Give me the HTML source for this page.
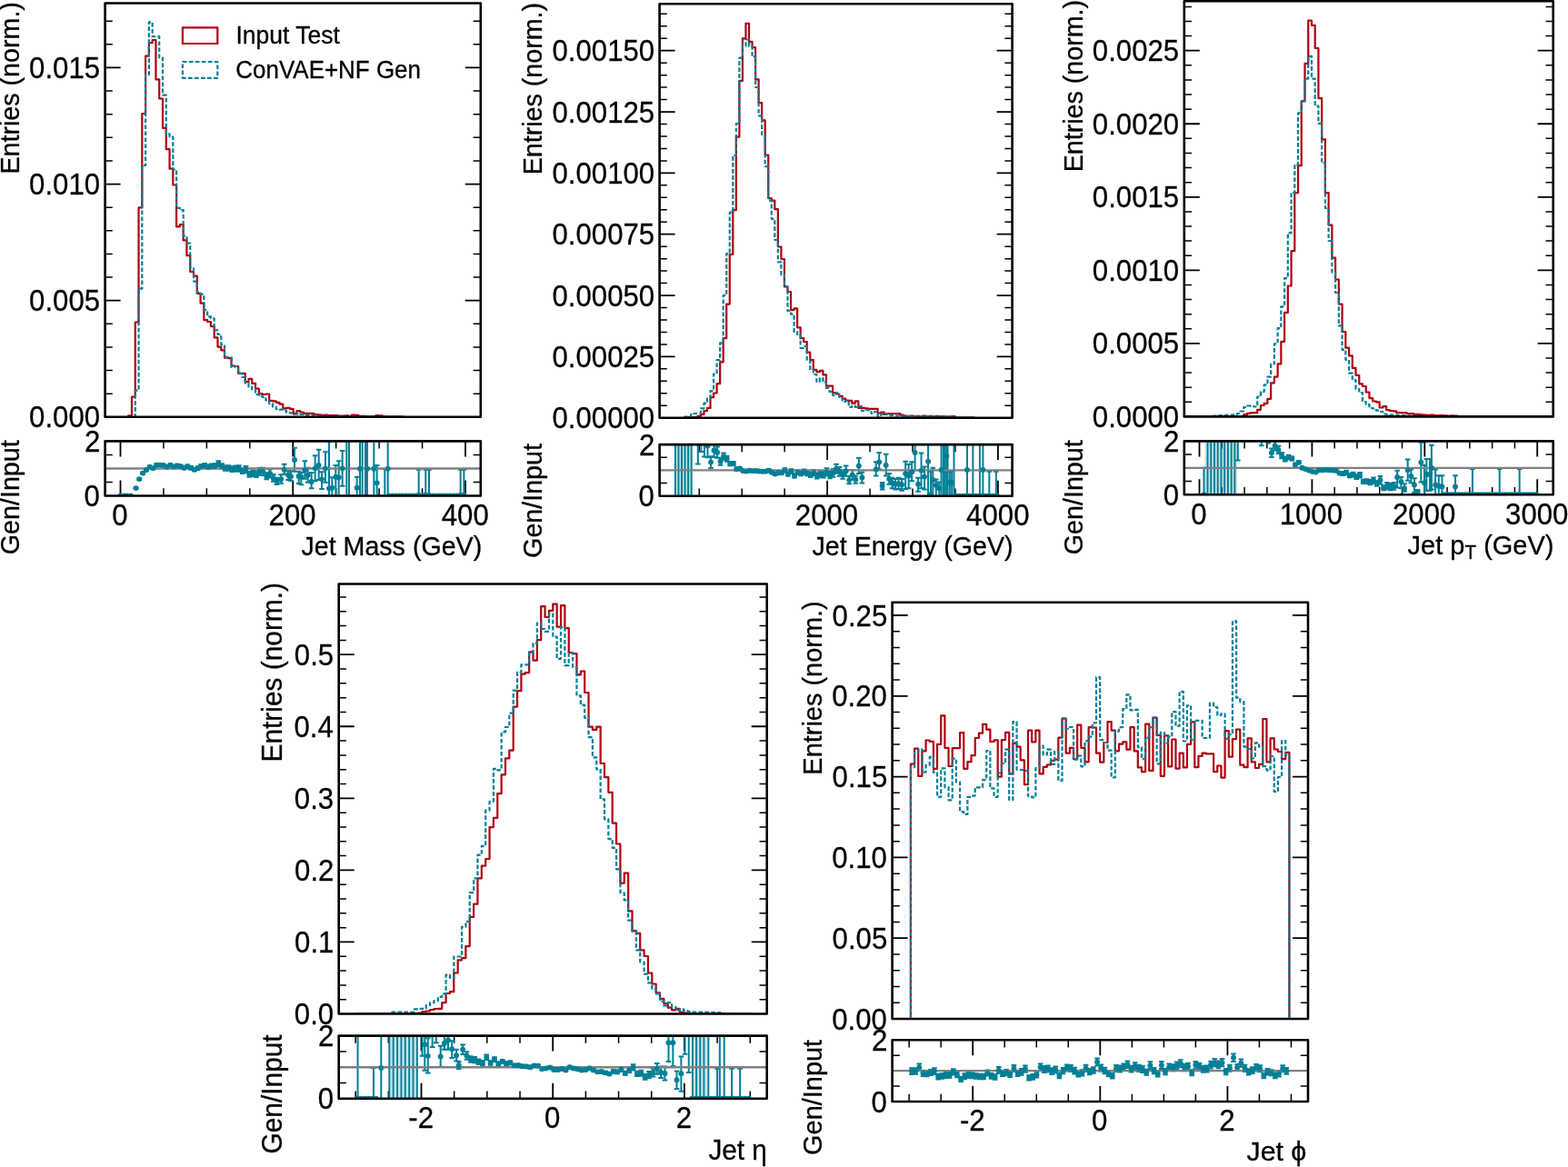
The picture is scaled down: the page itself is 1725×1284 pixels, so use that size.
<!DOCTYPE html>
<html><head><meta charset="utf-8"><title>Jet distributions</title>
<style>html,body{margin:0;padding:0;background:#fff;}svg{display:block;}text{stroke:#000;stroke-width:0.3px;}</style></head>
<body><svg xmlns="http://www.w3.org/2000/svg" width="1725" height="1284" viewBox="0 0 1725 1284" font-family="'Liberation Sans', Arial, Helvetica, sans-serif" fill="#000" stroke-linejoin="round"><defs><clipPath id="c_mass"><rect x="115.6" y="3.5" width="413.2" height="455.3"/></clipPath><clipPath id="r_mass"><rect x="115.6" y="485.4" width="413.2" height="60.1"/></clipPath><clipPath id="c_energy"><rect x="725.6" y="4.3" width="388" height="455.4"/></clipPath><clipPath id="r_energy"><rect x="725.6" y="489.1" width="388" height="56.6"/></clipPath><clipPath id="c_pt"><rect x="1302.8" y="1.3" width="405.9" height="457.1"/></clipPath><clipPath id="r_pt"><rect x="1302.8" y="485.4" width="405.9" height="58.9"/></clipPath><clipPath id="c_eta"><rect x="372.7" y="642.5" width="471" height="473"/></clipPath><clipPath id="r_eta"><rect x="372.7" y="1139.6" width="471" height="69.2"/></clipPath><clipPath id="c_phi"><rect x="981.6" y="662.7" width="457.4" height="458.3"/></clipPath><clipPath id="r_phi"><rect x="981.6" y="1144.2" width="457.4" height="67.8"/></clipPath></defs><g><path d="M115.6 433.17h8.2M528.8 433.17h-8.2" stroke="#000" stroke-width="1.5"/><path d="M115.6 407.55h8.2M528.8 407.55h-8.2" stroke="#000" stroke-width="1.5"/><path d="M115.6 381.92h8.2M528.8 381.92h-8.2" stroke="#000" stroke-width="1.5"/><path d="M115.6 356.29h8.2M528.8 356.29h-8.2" stroke="#000" stroke-width="1.5"/><path d="M115.6 330.67h17M528.8 330.67h-17" stroke="#000" stroke-width="1.8"/><path d="M115.6 305.04h8.2M528.8 305.04h-8.2" stroke="#000" stroke-width="1.5"/><path d="M115.6 279.41h8.2M528.8 279.41h-8.2" stroke="#000" stroke-width="1.5"/><path d="M115.6 253.79h8.2M528.8 253.79h-8.2" stroke="#000" stroke-width="1.5"/><path d="M115.6 228.16h8.2M528.8 228.16h-8.2" stroke="#000" stroke-width="1.5"/><path d="M115.6 202.53h17M528.8 202.53h-17" stroke="#000" stroke-width="1.8"/><path d="M115.6 176.91h8.2M528.8 176.91h-8.2" stroke="#000" stroke-width="1.5"/><path d="M115.6 151.28h8.2M528.8 151.28h-8.2" stroke="#000" stroke-width="1.5"/><path d="M115.6 125.65h8.2M528.8 125.65h-8.2" stroke="#000" stroke-width="1.5"/><path d="M115.6 100.03h8.2M528.8 100.03h-8.2" stroke="#000" stroke-width="1.5"/><path d="M115.6 74.4h17M528.8 74.4h-17" stroke="#000" stroke-width="1.8"/><path d="M115.6 48.77h8.2M528.8 48.77h-8.2" stroke="#000" stroke-width="1.5"/><path d="M115.6 23.15h8.2M528.8 23.15h-8.2" stroke="#000" stroke-width="1.5"/><text transform="translate(110.13,470.3) scale(0.9230,1)" text-anchor="end" font-size="33.8">0.000</text><text transform="translate(110.13,342.17) scale(0.9230,1)" text-anchor="end" font-size="33.8">0.005</text><text transform="translate(110.13,214.03) scale(0.9230,1)" text-anchor="end" font-size="33.8">0.010</text><text transform="translate(110.13,85.9) scale(0.9230,1)" text-anchor="end" font-size="33.8">0.015</text><path d="M115.6 530.48h8.2M528.8 530.48h-8.2" stroke="#000" stroke-width="1.5"/><path d="M115.6 500.42h8.2M528.8 500.42h-8.2" stroke="#000" stroke-width="1.5"/><text transform="translate(109.93,557) scale(0.9230,1)" text-anchor="end" font-size="33.8">0</text><text transform="translate(110.24,496.9) scale(0.9230,1)" text-anchor="end" font-size="33.8">2</text><path d="M132.5 545.5v-17M132.5 485.4v17" stroke="#000" stroke-width="1.8"/><path d="M179.94 545.5v-8.2M179.94 485.4v8.2" stroke="#000" stroke-width="1.5"/><path d="M227.38 545.5v-8.2M227.38 485.4v8.2" stroke="#000" stroke-width="1.5"/><path d="M274.81 545.5v-8.2M274.81 485.4v8.2" stroke="#000" stroke-width="1.5"/><path d="M322.25 545.5v-17M322.25 485.4v17" stroke="#000" stroke-width="1.8"/><path d="M369.69 545.5v-8.2M369.69 485.4v8.2" stroke="#000" stroke-width="1.5"/><path d="M417.12 545.5v-8.2M417.12 485.4v8.2" stroke="#000" stroke-width="1.5"/><path d="M464.56 545.5v-8.2M464.56 485.4v8.2" stroke="#000" stroke-width="1.5"/><path d="M512 545.5v-17M512 485.4v17" stroke="#000" stroke-width="1.8"/><text transform="translate(131.94,577.7) scale(0.9230,1)" text-anchor="middle" font-size="33.8">0</text><text transform="translate(321.57,577.7) scale(0.9230,1)" text-anchor="middle" font-size="33.8">200</text><text transform="translate(511.79,577.7) scale(0.9230,1)" text-anchor="middle" font-size="33.8">400</text><g clip-path="url(#c_mass)" fill="none" stroke-width="2.2"><path d="M141.2 458.8V457.3H144.98V436.7H148.76V354.5H152.54V228.4H156.32V125H160.1V61.7H163.88V47.2H167.66V44H171.44V87.4H175.22V108.5H179V140.8H182.78V164.2H186.56V185.7H190.34V203.5H194.12V249.4H197.9V247.1H201.68V264.4H205.46V281.2H209.24V299H213.02V303.6H216.8V322.8H220.58V333.6H224.36V352.1H228.14V354H231.92V359.2H235.7V371.3H239.48V381.6H243.26V385.3H247.04V393.7H250.82V394.1H254.6V402.5H258.38V403H262.16V410.8H265.94V410.8H269.72V420.1H273.5V416.8H277.28V421.9H281.06V427.5H284.84V433.1H288.62V434H292.4V433.5H296.18V440.9H299.96V441.4H303.74V442.8H307.52V444.7H311.3V449.3H315.08V448.8H318.86V449.8H322.64V455.3H326.42V452.1H330.2V453.5H333.98V454.9H337.76V454.9H341.54V454.9H345.32V456H349.1V456.3H352.88V456.8H356.66V456.5H360.44V457H364.22V457.2H368V457H371.78V457.5H375.56V457.6H379.34V457.3H383.12V457.8H386.9V456.7H390.68V456.9H394.46V457.8H398.24V457.9H402.02V458H405.8V458.1H409.58V458H413.36V457.2H417.14V457.4H420.92V458.2H424.7V458.3H428.48V458.3H432.26V458.4H436.04V458.4H439.82V458.5H443.6V458.8" stroke="#b0000f"/><path d="M141.2 458.8V459H144.98V459H148.76V429.7H152.54V317.7H156.32V182H160.1V82.3H163.88V24.3H167.66V40.2H171.44V40.2H175.22V63.6H179V104.7H182.78V147.4H186.56V150.7H190.34V186.6H194.12V228.9H197.9V231.2H201.68V259.5H205.46V267.7H209.24V295.2H213.02V309.7H216.8V321.4H220.58V323.7H224.36V341H228.14V348.4H231.92V350.3H235.7V363.4H239.48V368H243.26V379.3H247.04V392.8H250.82V393.2H254.6V403.9H258.38V403H262.16V410.8H265.94V415H269.72V421.5H273.5V425.7H277.28V428.4H281.06V434H284.84V435.9H288.62V436.8H292.4V440.5H296.18V444.2H299.96V447.5H303.74V450.2H307.52V450.7H311.3V451.6H315.08V454H318.86V454.4H322.64V454.4H326.42V455.3H330.2V455.8H333.98V456.7H337.76V457H341.54V457.2H345.32V457.5H349.1V457.6H352.88V457.7H356.66V457.9H360.44V458H364.22V458.1H368V458.1H371.78V458.2H375.56V458.3H379.34V458.3H383.12V458.4H386.9V458.4H390.68V458.5H394.46V458.5H398.24V458.6H402.02V458.6H405.8V458.6H409.58V458.6H413.36V458.6H417.14V458.6H420.92V458.6H424.7V458.6H428.48V458.6H432.26V458.6H436.04V458.6H439.82V458.6H443.6V458.8" stroke="#007f96" stroke-dasharray="4.7 2.3"/></g><g clip-path="url(#r_mass)" stroke="#007f96" fill="none" stroke-width="2"><path d="M149.55 538.03V536.2"/><path d="M146.75 538.03h5.6"/><path d="M146.75 536.2h5.6"/><path d="M153.33 528.12V526.07"/><path d="M150.53 528.12h5.6"/><path d="M150.53 526.07h5.6"/><path d="M157.11 521.63V519.53"/><path d="M154.31 521.63h5.6"/><path d="M154.31 519.53h5.6"/><path d="M160.89 518.07V515.94"/><path d="M158.09 518.07h5.6"/><path d="M158.09 515.94h5.6"/><path d="M164.67 514.91V512.64"/><path d="M161.87 514.91h5.6"/><path d="M161.87 512.64h5.6"/><path d="M168.45 516.27V514.08"/><path d="M165.65 516.27h5.6"/><path d="M165.65 514.08h5.6"/><path d="M172.23 512.89V510.38"/><path d="M169.43 512.89h5.6"/><path d="M169.43 510.38h5.6"/><path d="M176.01 512.89V510.3"/><path d="M173.21 512.89h5.6"/><path d="M173.21 510.3h5.6"/><path d="M179.79 513.38V510.69"/><path d="M176.99 513.38h5.6"/><path d="M176.99 510.69h5.6"/><path d="M183.57 515.08V512.39"/><path d="M180.77 515.08h5.6"/><path d="M180.77 512.39h5.6"/><path d="M187.35 513.06V510.13"/><path d="M184.55 513.06h5.6"/><path d="M184.55 510.13h5.6"/><path d="M191.13 514.91V512.01"/><path d="M188.33 514.91h5.6"/><path d="M188.33 512.01h5.6"/><path d="M194.91 514.15V510.87"/><path d="M192.11 514.15h5.6"/><path d="M192.11 510.87h5.6"/><path d="M198.69 514.8V511.59"/><path d="M195.89 514.8h5.6"/><path d="M195.89 511.59h5.6"/><path d="M202.47 516.31V513.08"/><path d="M199.67 516.31h5.6"/><path d="M199.67 513.08h5.6"/><path d="M206.25 514.92V511.41"/><path d="M203.45 514.92h5.6"/><path d="M203.45 511.41h5.6"/><path d="M210.03 516.51V512.96"/><path d="M207.23 516.51h5.6"/><path d="M207.23 512.96h5.6"/><path d="M213.81 518.35V514.91"/><path d="M211.01 518.35h5.6"/><path d="M211.01 514.91h5.6"/><path d="M217.59 517.05V513.23"/><path d="M214.79 517.05h5.6"/><path d="M214.79 513.23h5.6"/><path d="M221.37 515.17V510.98"/><path d="M218.57 515.17h5.6"/><path d="M218.57 510.98h5.6"/><path d="M225.15 514.63V510.02"/><path d="M222.35 514.63h5.6"/><path d="M222.35 510.02h5.6"/><path d="M228.93 516.09V511.6"/><path d="M226.13 516.09h5.6"/><path d="M226.13 511.6h5.6"/><path d="M232.71 515.13V510.4"/><path d="M229.91 515.13h5.6"/><path d="M229.91 510.4h5.6"/><path d="M236.49 515.26V510.22"/><path d="M233.69 515.26h5.6"/><path d="M233.69 510.22h5.6"/><path d="M240.27 513V507.31"/><path d="M237.47 513h5.6"/><path d="M237.47 507.31h5.6"/><path d="M244.05 515.73V510.26"/><path d="M241.25 515.73h5.6"/><path d="M241.25 510.26h5.6"/><path d="M247.83 517.8V512.27"/><path d="M245.03 517.8h5.6"/><path d="M245.03 512.27h5.6"/><path d="M251.61 517.81V512.26"/><path d="M248.81 517.81h5.6"/><path d="M248.81 512.26h5.6"/><path d="M255.39 519.09V513.31"/><path d="M252.59 519.09h5.6"/><path d="M252.59 513.31h5.6"/><path d="M259.17 518.41V512.49"/><path d="M256.37 518.41h5.6"/><path d="M256.37 512.49h5.6"/><path d="M262.95 518.64V512.26"/><path d="M260.15 518.64h5.6"/><path d="M260.15 512.26h5.6"/><path d="M266.73 521.06V515.1"/><path d="M263.93 521.06h5.6"/><path d="M263.93 515.1h5.6"/><path d="M270.51 519.99V513.08"/><path d="M267.71 519.99h5.6"/><path d="M267.71 513.08h5.6"/><path d="M274.29 524.68V518.96"/><path d="M271.49 524.68h5.6"/><path d="M271.49 518.96h5.6"/><path d="M278.07 523.9V517.59"/><path d="M275.27 523.9h5.6"/><path d="M275.27 517.59h5.6"/><path d="M281.85 525.02V518.36"/><path d="M279.05 525.02h5.6"/><path d="M279.05 518.36h5.6"/><path d="M285.63 522.72V514.72"/><path d="M282.83 522.72h5.6"/><path d="M282.83 514.72h5.6"/><path d="M289.41 522.9V514.78"/><path d="M286.61 522.9h5.6"/><path d="M286.61 514.78h5.6"/><path d="M293.19 527.23V520.3"/><path d="M290.39 527.23h5.6"/><path d="M290.39 520.3h5.6"/><path d="M296.97 525.48V516.5"/><path d="M294.17 525.48h5.6"/><path d="M294.17 516.5h5.6"/><path d="M300.75 529.86V522.11"/><path d="M297.95 529.86h5.6"/><path d="M297.95 522.11h5.6"/><path d="M304.53 532.9V525.8"/><path d="M301.73 532.9h5.6"/><path d="M301.73 525.8h5.6"/><path d="M309.2 531.68V522.36"/><path d="M306.4 531.68h5.6"/><path d="M306.4 522.36h5.6"/><path d="M312.7 521.76V510.64"/><path d="M309.9 521.76h5.6"/><path d="M309.9 510.64h5.6"/><path d="M317.1 528.07V518.3"/><path d="M314.3 528.07h5.6"/><path d="M314.3 518.3h5.6"/><path d="M320 528.97V518.3"/><path d="M317.2 528.97h5.6"/><path d="M317.2 518.3h5.6"/><path d="M324 518.67V492.67"/><path d="M321.2 518.67h5.6"/><path d="M321.2 492.67h5.6"/><path d="M328.67 532V518.67"/><path d="M325.87 532h5.6"/><path d="M325.87 518.67h5.6"/><path d="M331.33 533.33V520"/><path d="M328.53 533.33h5.6"/><path d="M328.53 520h5.6"/><path d="M335.33 526.67V507.33"/><path d="M332.53 526.67h5.6"/><path d="M332.53 507.33h5.6"/><path d="M338.67 530.67V514.67"/><path d="M335.87 530.67h5.6"/><path d="M335.87 514.67h5.6"/><path d="M342.67 537.33V520"/><path d="M339.87 537.33h5.6"/><path d="M339.87 520h5.6"/><path d="M346.67 529.33V501.33"/><path d="M343.87 529.33h5.6"/><path d="M343.87 501.33h5.6"/><path d="M350.67 528V494.67"/><path d="M347.87 528h5.6"/><path d="M347.87 494.67h5.6"/><path d="M354 538V519.33"/><path d="M351.2 538h5.6"/><path d="M351.2 519.33h5.6"/><path d="M358 530.67V497.33"/><path d="M355.2 530.67h5.6"/><path d="M355.2 497.33h5.6"/><path d="M362 554.67V486"/><path d="M359.2 554.67h5.6"/><path d="M359.2 486h5.6"/><path d="M365.33 554.67V525.33"/><path d="M362.53 554.67h5.6"/><path d="M362.53 525.33h5.6"/><path d="M369.33 554.67V512"/><path d="M366.53 554.67h5.6"/><path d="M366.53 512h5.6"/><path d="M372.67 554.67V507.33"/><path d="M369.87 554.67h5.6"/><path d="M369.87 507.33h5.6"/><path d="M376.67 534.67V496"/><path d="M373.87 534.67h5.6"/><path d="M373.87 496h5.6"/><path d="M381.33 554.67V485.33"/><path d="M378.53 554.67h5.6"/><path d="M378.53 485.33h5.6"/><path d="M384 554.67V485.33"/><path d="M381.2 554.67h5.6"/><path d="M381.2 485.33h5.6"/><path d="M392.67 554.67V524.67"/><path d="M389.87 554.67h5.6"/><path d="M389.87 524.67h5.6"/><path d="M396 560V480"/><path d="M393.2 560h5.6"/><path d="M393.2 480h5.6"/><path d="M398.67 560V480"/><path d="M395.87 560h5.6"/><path d="M395.87 480h5.6"/><path d="M402 560V480"/><path d="M399.2 560h5.6"/><path d="M399.2 480h5.6"/><path d="M404 560V480"/><path d="M401.2 560h5.6"/><path d="M401.2 480h5.6"/><path d="M411.33 560V480"/><path d="M408.53 560h5.6"/><path d="M408.53 480h5.6"/><path d="M414.67 554.67V512"/><path d="M411.87 554.67h5.6"/><path d="M411.87 512h5.6"/><path d="M423.33 554.67V516"/><path d="M420.53 554.67h5.6"/><path d="M420.53 516h5.6"/><path d="M426.67 560V480"/><path d="M423.87 560h5.6"/><path d="M423.87 480h5.6"/><path d="M460.67 544.67V516.67"/><path d="M457.87 544.67h5.6"/><path d="M457.87 516.67h5.6"/><path d="M468.27 544.67V516.67"/><path d="M465.47 544.67h5.6"/><path d="M465.47 516.67h5.6"/><path d="M472 544.67V516.67"/><path d="M469.2 544.67h5.6"/><path d="M469.2 516.67h5.6"/><path d="M506.67 544.67V516.67"/><path d="M503.87 544.67h5.6"/><path d="M503.87 516.67h5.6"/><path d="M510.4 544.67V516.67"/><path d="M507.6 544.67h5.6"/><path d="M507.6 516.67h5.6"/></g><path d="M115.6 515.45H528.8" stroke="#808080" stroke-width="2.4"/><g clip-path="url(#r_mass)" fill="#007f96"><circle cx="149.55" cy="537.12" r="2.95"/><circle cx="153.33" cy="527.1" r="2.95"/><circle cx="157.11" cy="520.58" r="2.95"/><circle cx="160.89" cy="517.01" r="2.95"/><circle cx="164.67" cy="513.78" r="2.95"/><circle cx="168.45" cy="515.17" r="2.95"/><circle cx="172.23" cy="511.63" r="2.95"/><circle cx="176.01" cy="511.6" r="2.95"/><circle cx="179.79" cy="512.04" r="2.95"/><circle cx="183.57" cy="513.74" r="2.95"/><circle cx="187.35" cy="511.6" r="2.95"/><circle cx="191.13" cy="513.46" r="2.95"/><circle cx="194.91" cy="512.51" r="2.95"/><circle cx="198.69" cy="513.19" r="2.95"/><circle cx="202.47" cy="514.69" r="2.95"/><circle cx="206.25" cy="513.17" r="2.95"/><circle cx="210.03" cy="514.74" r="2.95"/><circle cx="213.81" cy="516.63" r="2.95"/><circle cx="217.59" cy="515.14" r="2.95"/><circle cx="221.37" cy="513.07" r="2.95"/><circle cx="225.15" cy="512.32" r="2.95"/><circle cx="228.93" cy="513.84" r="2.95"/><circle cx="232.71" cy="512.76" r="2.95"/><circle cx="236.49" cy="512.74" r="2.95"/><circle cx="240.27" cy="510.16" r="2.95"/><circle cx="244.05" cy="513" r="2.95"/><circle cx="247.83" cy="515.03" r="2.95"/><circle cx="251.61" cy="515.03" r="2.95"/><circle cx="255.39" cy="516.2" r="2.95"/><circle cx="259.17" cy="515.45" r="2.95"/><circle cx="262.95" cy="515.45" r="2.95"/><circle cx="266.73" cy="518.08" r="2.95"/><circle cx="270.51" cy="516.54" r="2.95"/><circle cx="274.29" cy="521.82" r="2.95"/><circle cx="278.07" cy="520.74" r="2.95"/><circle cx="281.85" cy="521.69" r="2.95"/><circle cx="285.63" cy="518.72" r="2.95"/><circle cx="289.41" cy="518.84" r="2.95"/><circle cx="293.19" cy="523.76" r="2.95"/><circle cx="296.97" cy="520.99" r="2.95"/><circle cx="300.75" cy="525.98" r="2.95"/><circle cx="304.53" cy="529.35" r="2.95"/><circle cx="309.2" cy="527.17" r="2.95"/><circle cx="312.7" cy="516.95" r="2.95"/><circle cx="317.1" cy="522.66" r="2.95"/><circle cx="320" cy="524.16" r="2.95"/><circle cx="324" cy="506" r="2.95"/><circle cx="328.67" cy="524" r="2.95"/><circle cx="331.33" cy="524.67" r="2.95"/><circle cx="335.33" cy="517.33" r="2.95"/><circle cx="338.67" cy="522.67" r="2.95"/><circle cx="342.67" cy="530" r="2.95"/><circle cx="346.67" cy="515.33" r="2.95"/><circle cx="350.67" cy="512" r="2.95"/><circle cx="354" cy="527.33" r="2.95"/><circle cx="358" cy="515.33" r="2.95"/><circle cx="362" cy="537.33" r="2.95"/><circle cx="365.33" cy="536.67" r="2.95"/><circle cx="369.33" cy="524.67" r="2.95"/><circle cx="372.67" cy="525.33" r="2.95"/><circle cx="376.67" cy="515.33" r="2.95"/><circle cx="381.33" cy="554.67" r="2.95"/><circle cx="384" cy="554.67" r="2.95"/><circle cx="392.67" cy="536.67" r="2.95"/><circle cx="396" cy="515.73" r="2.95"/><circle cx="398.67" cy="473.33" r="2.95"/><circle cx="402" cy="473.33" r="2.95"/><circle cx="404" cy="515.73" r="2.95"/><circle cx="411.33" cy="515.73" r="2.95"/><circle cx="414.67" cy="531.33" r="2.95"/><circle cx="423.33" cy="554.67" r="2.95"/><circle cx="426.67" cy="515.73" r="2.95"/><circle cx="460.67" cy="544.67" r="2.95"/><circle cx="468.27" cy="544.67" r="2.95"/><circle cx="472" cy="544.67" r="2.95"/><circle cx="506.67" cy="544.67" r="2.95"/><circle cx="510.4" cy="544.67" r="2.95"/><circle cx="428" cy="545.5" r="2.95"/><circle cx="431.73" cy="545.5" r="2.95"/><circle cx="435.47" cy="545.5" r="2.95"/><circle cx="439.2" cy="545.5" r="2.95"/><circle cx="442.93" cy="545.5" r="2.95"/><circle cx="446.67" cy="545.5" r="2.95"/><circle cx="450.4" cy="545.5" r="2.95"/><circle cx="454.13" cy="545.5" r="2.95"/><circle cx="457.87" cy="545.5" r="2.95"/><circle cx="461.6" cy="545.5" r="2.95"/><circle cx="465.33" cy="545.5" r="2.95"/><circle cx="469.07" cy="545.5" r="2.95"/><circle cx="472.8" cy="545.5" r="2.95"/><circle cx="476.53" cy="545.5" r="2.95"/><circle cx="480.27" cy="545.5" r="2.95"/><circle cx="484" cy="545.5" r="2.95"/><circle cx="487.73" cy="545.5" r="2.95"/><circle cx="491.47" cy="545.5" r="2.95"/><circle cx="495.2" cy="545.5" r="2.95"/><circle cx="498.93" cy="545.5" r="2.95"/><circle cx="502.67" cy="545.5" r="2.95"/><circle cx="506.4" cy="545.5" r="2.95"/><circle cx="510.13" cy="545.5" r="2.95"/><circle cx="132.5" cy="545.5" r="2.95"/><circle cx="136.28" cy="545.5" r="2.95"/><circle cx="140.06" cy="545.5" r="2.95"/><circle cx="143.84" cy="545.5" r="2.95"/></g><rect x="115.6" y="3.5" width="413.2" height="455.3" fill="none" stroke="#000" stroke-width="2.6"/><rect x="115.6" y="485.4" width="413.2" height="60.1" fill="none" stroke="#000" stroke-width="2.6"/><text transform="translate(331.43,610.6) scale(0.9640,1)" text-anchor="start" font-size="29.7">Jet Mass (GeV)</text><text transform="translate(21,2.11) rotate(-90) scale(0.9650,1)" text-anchor="end" font-size="29.7">Entries (norm.)</text><text transform="translate(21,484.34) rotate(-90) scale(0.9650,1)" text-anchor="end" font-size="29.7">Gen/Input</text></g>
<g><path d="M725.6 446.23h8.2M1113.6 446.23h-8.2" stroke="#000" stroke-width="1.5"/><path d="M725.6 432.77h8.2M1113.6 432.77h-8.2" stroke="#000" stroke-width="1.5"/><path d="M725.6 419.3h8.2M1113.6 419.3h-8.2" stroke="#000" stroke-width="1.5"/><path d="M725.6 405.83h8.2M1113.6 405.83h-8.2" stroke="#000" stroke-width="1.5"/><path d="M725.6 392.37h17M1113.6 392.37h-17" stroke="#000" stroke-width="1.8"/><path d="M725.6 378.9h8.2M1113.6 378.9h-8.2" stroke="#000" stroke-width="1.5"/><path d="M725.6 365.43h8.2M1113.6 365.43h-8.2" stroke="#000" stroke-width="1.5"/><path d="M725.6 351.97h8.2M1113.6 351.97h-8.2" stroke="#000" stroke-width="1.5"/><path d="M725.6 338.5h8.2M1113.6 338.5h-8.2" stroke="#000" stroke-width="1.5"/><path d="M725.6 325.03h17M1113.6 325.03h-17" stroke="#000" stroke-width="1.8"/><path d="M725.6 311.57h8.2M1113.6 311.57h-8.2" stroke="#000" stroke-width="1.5"/><path d="M725.6 298.1h8.2M1113.6 298.1h-8.2" stroke="#000" stroke-width="1.5"/><path d="M725.6 284.63h8.2M1113.6 284.63h-8.2" stroke="#000" stroke-width="1.5"/><path d="M725.6 271.17h8.2M1113.6 271.17h-8.2" stroke="#000" stroke-width="1.5"/><path d="M725.6 257.7h17M1113.6 257.7h-17" stroke="#000" stroke-width="1.8"/><path d="M725.6 244.23h8.2M1113.6 244.23h-8.2" stroke="#000" stroke-width="1.5"/><path d="M725.6 230.77h8.2M1113.6 230.77h-8.2" stroke="#000" stroke-width="1.5"/><path d="M725.6 217.3h8.2M1113.6 217.3h-8.2" stroke="#000" stroke-width="1.5"/><path d="M725.6 203.83h8.2M1113.6 203.83h-8.2" stroke="#000" stroke-width="1.5"/><path d="M725.6 190.37h17M1113.6 190.37h-17" stroke="#000" stroke-width="1.8"/><path d="M725.6 176.9h8.2M1113.6 176.9h-8.2" stroke="#000" stroke-width="1.5"/><path d="M725.6 163.43h8.2M1113.6 163.43h-8.2" stroke="#000" stroke-width="1.5"/><path d="M725.6 149.97h8.2M1113.6 149.97h-8.2" stroke="#000" stroke-width="1.5"/><path d="M725.6 136.5h8.2M1113.6 136.5h-8.2" stroke="#000" stroke-width="1.5"/><path d="M725.6 123.03h17M1113.6 123.03h-17" stroke="#000" stroke-width="1.8"/><path d="M725.6 109.57h8.2M1113.6 109.57h-8.2" stroke="#000" stroke-width="1.5"/><path d="M725.6 96.1h8.2M1113.6 96.1h-8.2" stroke="#000" stroke-width="1.5"/><path d="M725.6 82.63h8.2M1113.6 82.63h-8.2" stroke="#000" stroke-width="1.5"/><path d="M725.6 69.17h8.2M1113.6 69.17h-8.2" stroke="#000" stroke-width="1.5"/><path d="M725.6 55.7h17M1113.6 55.7h-17" stroke="#000" stroke-width="1.8"/><path d="M725.6 42.23h8.2M1113.6 42.23h-8.2" stroke="#000" stroke-width="1.5"/><path d="M725.6 28.77h8.2M1113.6 28.77h-8.2" stroke="#000" stroke-width="1.5"/><path d="M725.6 15.3h8.2M1113.6 15.3h-8.2" stroke="#000" stroke-width="1.5"/><text transform="translate(720.2,471.2) scale(0.9230,1)" text-anchor="end" font-size="33.8">0.00000</text><text transform="translate(720.2,403.87) scale(0.9230,1)" text-anchor="end" font-size="33.8">0.00025</text><text transform="translate(720.2,336.53) scale(0.9230,1)" text-anchor="end" font-size="33.8">0.00050</text><text transform="translate(720.2,269.2) scale(0.9230,1)" text-anchor="end" font-size="33.8">0.00075</text><text transform="translate(720.2,201.87) scale(0.9230,1)" text-anchor="end" font-size="33.8">0.00100</text><text transform="translate(720.2,134.53) scale(0.9230,1)" text-anchor="end" font-size="33.8">0.00125</text><text transform="translate(720.2,67.2) scale(0.9230,1)" text-anchor="end" font-size="33.8">0.00150</text><path d="M725.6 531.55h8.2M1113.6 531.55h-8.2" stroke="#000" stroke-width="1.5"/><path d="M725.6 503.25h8.2M1113.6 503.25h-8.2" stroke="#000" stroke-width="1.5"/><text transform="translate(719.93,557.2) scale(0.9230,1)" text-anchor="end" font-size="33.8">0</text><text transform="translate(720.24,500.6) scale(0.9230,1)" text-anchor="end" font-size="33.8">2</text><path d="M769.25 545.7v-8.2M769.25 489.1v8.2" stroke="#000" stroke-width="1.5"/><path d="M816.2 545.7v-8.2M816.2 489.1v8.2" stroke="#000" stroke-width="1.5"/><path d="M863.15 545.7v-8.2M863.15 489.1v8.2" stroke="#000" stroke-width="1.5"/><path d="M910.1 545.7v-17M910.1 489.1v17" stroke="#000" stroke-width="1.8"/><path d="M957.05 545.7v-8.2M957.05 489.1v8.2" stroke="#000" stroke-width="1.5"/><path d="M1004 545.7v-8.2M1004 489.1v8.2" stroke="#000" stroke-width="1.5"/><path d="M1050.95 545.7v-8.2M1050.95 489.1v8.2" stroke="#000" stroke-width="1.5"/><path d="M1097.9 545.7v-17M1097.9 489.1v17" stroke="#000" stroke-width="1.8"/><text transform="translate(909.52,577.9) scale(0.9230,1)" text-anchor="middle" font-size="33.8">2000</text><text transform="translate(1097.79,577.9) scale(0.9230,1)" text-anchor="middle" font-size="33.8">4000</text><g clip-path="url(#c_energy)" fill="none" stroke-width="2.2"><path d="M753.2 459.7V459H756.74V459H760.28V459H763.82V459H767.36V457.9H770.9V455.9H774.44V452.1H777.98V448.9H781.52V437.2H785.06V432.5H788.6V422.2H792.14V398.4H795.68V372.2H799.22V334.6H802.76V279.9H806.3V231.2H809.84V150.7H813.38V88.9H816.92V42.3H820.46V25.9H824V45.9H827.54V52.1H831.08V87.4H834.62V113.2H838.16V132.4H841.7V170.5H845.24V218.1H848.78V220.6H852.32V230.2H855.86V271.5H859.4V285H862.94V315.4H866.48V321H870.02V341.1H873.56V339.3H877.1V360.3H880.64V372.2H884.18V376H887.72V387.7H891.26V396.1H894.8V406.8H898.34V409.2H901.88V407.8H905.42V412.4H908.96V424.6H912.5V424.6H916.04V432.1H919.58V433.5H923.12V435.8H926.66V438.6H930.2V440.5H933.74V440.9H937.28V443.7H940.82V441.4H944.36V448.9H947.9V448.9H951.44V449.3H954.98V449.8H958.52V449.8H962.06V449.8H965.6V454.5H969.14V453.6H972.68V455.9H976.22V455H979.76V455H983.3V455H986.84V455H990.38V456.6H993.92V457.6H997.46V457.9H1001V457.5H1004.54V458H1008.08V457.8H1011.62V458.2H1015.16V457.6H1018.7V458.1H1022.24V457.9H1025.78V458.3H1029.32V457.8H1032.86V458.2H1036.4V458H1039.94V458.3H1043.48V458.4H1047.02V458.2H1050.56V459.3H1054.1V459.3H1057.64V459.3H1061.18V459.3H1064.72V459.3H1068.26V459.3H1071.8V459.7" stroke="#b0000f"/><path d="M753.2 459.7V458.5H756.74V458H760.28V455H763.82V455H767.36V455H770.9V449.3H774.44V443.7H777.98V438.6H781.52V430.2H785.06V411.5H788.6V396.1H792.14V377.4H795.68V325H799.22V279H802.76V233.7H806.3V171H809.84V136H813.38V63.6H816.92V50.8H820.46V43.5H824V50.8H827.54V62.6H831.08V96H834.62V127.3H838.16V148.2H841.7V183.1H845.24V220.6H848.78V240.8H852.32V264H855.86V288.3H859.4V302.3H862.94V315.4H866.48V342H870.02V345.6H873.56V365.2H877.1V368H880.64V383H884.18V381H887.72V396H891.26V407H894.8V412H898.34V420H901.88V416H905.42V420.5H908.96V427H912.5V431H916.04V435H919.58V432H923.12V437H926.66V442H930.2V441H933.74V448H937.28V446.5H940.82V448H944.36V447H947.9V452H951.44V451H954.98V451.5H958.52V455H962.06V453H965.6V458H969.14V456H972.68V455H976.22V457H979.76V457.2H983.3V457.5H986.84V457.4H990.38V457.8H993.92V457.6H997.46V458H1001V458.1H1004.54V457.9H1008.08V458.2H1011.62V458.3H1015.16V458H1018.7V458.4H1022.24V458.3H1025.78V458.5H1029.32V458.6H1032.86V458.4H1036.4V458.7H1039.94V458.8H1043.48V459.2H1047.02V459.2H1050.56V459.3H1054.1V459.3H1057.64V459.3H1061.18V459.3H1064.72V459.3H1068.26V459.3H1071.8V459.7" stroke="#007f96" stroke-dasharray="4.7 2.3"/></g><g clip-path="url(#r_energy)" stroke="#007f96" fill="none" stroke-width="2"><path d="M744.7 545.7V489.1" stroke-opacity="0.22"/><path d="M748.25 545.7V489.1" stroke-opacity="0.22"/><path d="M751.8 545.7V489.1" stroke-opacity="0.22"/><path d="M755.35 545.7V489.1" stroke-opacity="0.22"/><path d="M758.9 545.7V489.1" stroke-opacity="0.22"/><path d="M771.37 497.04V439.45"/><path d="M768.57 497.04h5.6"/><path d="M768.57 439.45h5.6"/><path d="M774.91 502.4V469.84"/><path d="M772.11 502.4h5.6"/><path d="M772.11 469.84h5.6"/><path d="M778.45 503.24V477.58"/><path d="M775.65 503.24h5.6"/><path d="M775.65 477.58h5.6"/><path d="M781.99 515.04V502.15"/><path d="M779.19 515.04h5.6"/><path d="M779.19 502.15h5.6"/><path d="M785.53 503.01V488.09"/><path d="M782.73 503.01h5.6"/><path d="M782.73 488.09h5.6"/><path d="M789.07 503.83V491.57"/><path d="M786.27 503.83h5.6"/><path d="M786.27 491.57h5.6"/><path d="M792.61 511.68V503.73"/><path d="M789.81 511.68h5.6"/><path d="M789.81 503.73h5.6"/><path d="M796.15 505.84V498.42"/><path d="M793.35 505.84h5.6"/><path d="M793.35 498.42h5.6"/><path d="M799.69 507.77V501.87"/><path d="M796.89 507.77h5.6"/><path d="M796.89 501.87h5.6"/><path d="M803.23 512.33V507.92"/><path d="M800.43 512.33h5.6"/><path d="M800.43 507.92h5.6"/><path d="M806.77 511.91V507.98"/><path d="M803.97 511.91h5.6"/><path d="M803.97 507.98h5.6"/><path d="M810.31 517.52V514.59"/><path d="M807.51 517.52h5.6"/><path d="M807.51 514.59h5.6"/><path d="M813.85 516.82V514.11"/><path d="M811.05 516.82h5.6"/><path d="M811.05 514.11h5.6"/><path d="M817.39 519.17V516.78"/><path d="M814.59 519.17h5.6"/><path d="M814.59 516.78h5.6"/><path d="M820.93 519.7V517.39"/><path d="M818.13 519.7h5.6"/><path d="M818.13 517.39h5.6"/><path d="M824.47 518.94V516.53"/><path d="M821.67 518.94h5.6"/><path d="M821.67 516.53h5.6"/><path d="M828.01 519.33V516.92"/><path d="M825.21 519.33h5.6"/><path d="M825.21 516.92h5.6"/><path d="M831.55 519.32V516.79"/><path d="M828.75 519.32h5.6"/><path d="M828.75 516.79h5.6"/><path d="M835.09 519.84V517.26"/><path d="M832.29 519.84h5.6"/><path d="M832.29 517.26h5.6"/><path d="M838.63 520.09V517.44"/><path d="M835.83 520.09h5.6"/><path d="M835.83 517.44h5.6"/><path d="M842.17 520.04V517.22"/><path d="M839.37 520.04h5.6"/><path d="M839.37 517.22h5.6"/><path d="M845.71 519.28V516.11"/><path d="M842.91 519.28h5.6"/><path d="M842.91 516.11h5.6"/><path d="M849.25 521.29V518.29"/><path d="M846.45 521.29h5.6"/><path d="M846.45 518.29h5.6"/><path d="M852.79 523.02V520.11"/><path d="M849.99 523.02h5.6"/><path d="M849.99 520.11h5.6"/><path d="M856.33 521.61V518.24"/><path d="M853.53 521.61h5.6"/><path d="M853.53 518.24h5.6"/><path d="M859.87 521.94V518.46"/><path d="M857.07 521.94h5.6"/><path d="M857.07 518.46h5.6"/><path d="M863.41 519.47V515.33"/><path d="M860.61 519.47h5.6"/><path d="M860.61 515.33h5.6"/><path d="M866.95 523.55V519.82"/><path d="M864.15 523.55h5.6"/><path d="M864.15 519.82h5.6"/><path d="M870.49 520.69V516.26"/><path d="M867.69 520.69h5.6"/><path d="M867.69 516.26h5.6"/><path d="M874.03 525.38V521.59"/><path d="M871.23 525.38h5.6"/><path d="M871.23 521.59h5.6"/><path d="M877.57 521.94V517.25"/><path d="M874.77 521.94h5.6"/><path d="M874.77 517.25h5.6"/><path d="M881.11 523.3V518.49"/><path d="M878.31 523.3h5.6"/><path d="M878.31 518.49h5.6"/><path d="M884.65 521.68V516.5"/><path d="M881.85 521.68h5.6"/><path d="M881.85 516.5h5.6"/><path d="M888.19 523.33V517.99"/><path d="M885.39 523.33h5.6"/><path d="M885.39 517.99h5.6"/><path d="M891.73 524.96V519.54"/><path d="M888.93 524.96h5.6"/><path d="M888.93 519.54h5.6"/><path d="M895.27 523.34V517.02"/><path d="M892.47 523.34h5.6"/><path d="M892.47 517.02h5.6"/><path d="M898.81 526.38V520.53"/><path d="M896.01 526.38h5.6"/><path d="M896.01 520.53h5.6"/><path d="M902.35 524.91V518.84"/><path d="M899.55 524.91h5.6"/><path d="M899.55 518.84h5.6"/><path d="M905.89 525.39V519.1"/><path d="M903.09 525.39h5.6"/><path d="M903.09 519.1h5.6"/><path d="M909.43 523.31V515.36"/><path d="M906.63 523.31h5.6"/><path d="M906.63 515.36h5.6"/><path d="M912.97 526.17V518.95"/><path d="M910.17 526.17h5.6"/><path d="M910.17 518.95h5.6"/><path d="M916.51 524.72V516.02"/><path d="M913.71 524.72h5.6"/><path d="M913.71 516.02h5.6"/><path d="M920.05 520.84V510.72"/><path d="M917.25 520.84h5.6"/><path d="M917.25 510.72h5.6"/><path d="M923.59 523.71V513.94"/><path d="M920.79 523.71h5.6"/><path d="M920.79 513.94h5.6"/><path d="M927.13 526.71V517.21"/><path d="M924.33 526.71h5.6"/><path d="M924.33 517.21h5.6"/><path d="M930.67 523.69V512.58"/><path d="M927.87 523.69h5.6"/><path d="M927.87 512.58h5.6"/><path d="M934.21 532.16V524.02"/><path d="M931.41 532.16h5.6"/><path d="M931.41 524.02h5.6"/><path d="M937.75 527.74V516.97"/><path d="M934.95 527.74h5.6"/><path d="M934.95 516.97h5.6"/><path d="M941.29 531.81V523.41"/><path d="M938.49 531.81h5.6"/><path d="M938.49 523.41h5.6"/><path d="M944.83 520.96V503.88"/><path d="M942.03 520.96h5.6"/><path d="M942.03 503.88h5.6"/><path d="M948.37 531.43V519.62"/><path d="M945.57 531.43h5.6"/><path d="M945.57 519.62h5.6"/><path d="M742.9 613.62V330.62"/><path d="M740.1 613.62h5.6"/><path d="M740.1 330.62h5.6"/><path d="M746.45 613.62V330.62"/><path d="M743.65 613.62h5.6"/><path d="M743.65 330.62h5.6"/><path d="M750 613.62V330.62"/><path d="M747.2 613.62h5.6"/><path d="M747.2 330.62h5.6"/><path d="M753.55 613.62V330.62"/><path d="M750.75 613.62h5.6"/><path d="M750.75 330.62h5.6"/><path d="M757.1 613.62V330.62"/><path d="M754.3 613.62h5.6"/><path d="M754.3 330.62h5.6"/><path d="M760.65 613.62V330.62"/><path d="M757.85 613.62h5.6"/><path d="M757.85 330.62h5.6"/><path d="M767.8 510.6V443.82"/><path d="M765 510.6h5.6"/><path d="M765 443.82h5.6"/><path d="M963.7 523.42V508.35"/><path d="M960.9 523.42h5.6"/><path d="M960.9 508.35h5.6"/><path d="M967.17 516.46V497.91"/><path d="M964.37 516.46h5.6"/><path d="M964.37 497.91h5.6"/><path d="M970.65 538.49V530.96"/><path d="M967.85 538.49h5.6"/><path d="M967.85 530.96h5.6"/><path d="M974.71 523.42V499.65"/><path d="M971.91 523.42h5.6"/><path d="M971.91 499.65h5.6"/><path d="M978.19 532.7V521.1"/><path d="M975.39 532.7h5.6"/><path d="M975.39 521.1h5.6"/><path d="M981.67 537.33V525.74"/><path d="M978.87 537.33h5.6"/><path d="M978.87 525.74h5.6"/><path d="M985.14 538.49V526.9"/><path d="M982.34 538.49h5.6"/><path d="M982.34 526.9h5.6"/><path d="M988.62 537.91V525.74"/><path d="M985.82 537.91h5.6"/><path d="M985.82 525.74h5.6"/><path d="M992.1 539.65V526.9"/><path d="M989.3 539.65h5.6"/><path d="M989.3 526.9h5.6"/><path d="M996.16 537.91V507.77"/><path d="M993.36 537.91h5.6"/><path d="M993.36 507.77h5.6"/><path d="M999.64 537.33V510.67"/><path d="M996.84 537.33h5.6"/><path d="M996.84 510.67h5.6"/><path d="M1003.12 529.22V508.35"/><path d="M1000.32 529.22h5.6"/><path d="M1000.32 508.35h5.6"/><path d="M1006.59 517.62V472.41"/><path d="M1003.79 517.62h5.6"/><path d="M1003.79 472.41h5.6"/><path d="M1010.07 540.81V525.74"/><path d="M1007.27 540.81h5.6"/><path d="M1007.27 525.74h5.6"/><path d="M1013.55 537.33V498.49"/><path d="M1010.75 537.33h5.6"/><path d="M1010.75 498.49h5.6"/><path d="M1017.03 538.49V513.57"/><path d="M1014.23 538.49h5.6"/><path d="M1014.23 513.57h5.6"/><path d="M1021.09 548.93V472.41"/><path d="M1018.29 548.93h5.6"/><path d="M1018.29 472.41h5.6"/><path d="M1023.99 548.93V518.78"/><path d="M1021.19 548.93h5.6"/><path d="M1021.19 518.78h5.6"/><path d="M1026.3 548.93V514.72"/><path d="M1023.5 548.93h5.6"/><path d="M1023.5 514.72h5.6"/><path d="M1029.78 548.93V527.48"/><path d="M1026.98 548.93h5.6"/><path d="M1026.98 527.48h5.6"/><path d="M1033.26 548.93V530.38"/><path d="M1030.46 548.93h5.6"/><path d="M1030.46 530.38h5.6"/><path d="M1035.58 565.16V472.41"/><path d="M1032.78 565.16h5.6"/><path d="M1032.78 472.41h5.6"/><path d="M1037.9 565.16V472.41"/><path d="M1035.1 565.16h5.6"/><path d="M1035.1 472.41h5.6"/><path d="M1039.64 565.16V472.41"/><path d="M1036.84 565.16h5.6"/><path d="M1036.84 472.41h5.6"/><path d="M1041.38 565.16V472.41"/><path d="M1038.58 565.16h5.6"/><path d="M1038.58 472.41h5.6"/><path d="M1042.54 565.16V472.41"/><path d="M1039.74 565.16h5.6"/><path d="M1039.74 472.41h5.6"/><path d="M1044.86 548.93V518.78"/><path d="M1042.06 548.93h5.6"/><path d="M1042.06 518.78h5.6"/><path d="M1047.17 548.93V518.78"/><path d="M1044.37 548.93h5.6"/><path d="M1044.37 518.78h5.6"/><path d="M1049.49 565.16V472.41"/><path d="M1046.69 565.16h5.6"/><path d="M1046.69 472.41h5.6"/><path d="M1063.99 565.16V472.41"/><path d="M1061.19 565.16h5.6"/><path d="M1061.19 472.41h5.6"/><path d="M1070.36 565.16V472.41"/><path d="M1067.56 565.16h5.6"/><path d="M1067.56 472.41h5.6"/><path d="M1077.9 565.16V472.41"/><path d="M1075.1 565.16h5.6"/><path d="M1075.1 472.41h5.6"/><path d="M1081.38 565.16V472.41"/><path d="M1078.58 565.16h5.6"/><path d="M1078.58 472.41h5.6"/><path d="M1088.33 548.93V518.78"/><path d="M1085.53 548.93h5.6"/><path d="M1085.53 518.78h5.6"/><path d="M1095.87 548.93V518.78"/><path d="M1093.07 548.93h5.6"/><path d="M1093.07 518.78h5.6"/></g><path d="M725.6 517.4H1113.6" stroke="#808080" stroke-width="2.4"/><g clip-path="url(#r_energy)" fill="#007f96"><circle cx="771.37" cy="468.25" r="2.95"/><circle cx="774.91" cy="486.12" r="2.95"/><circle cx="778.45" cy="490.41" r="2.95"/><circle cx="781.99" cy="508.6" r="2.95"/><circle cx="785.53" cy="495.55" r="2.95"/><circle cx="789.07" cy="497.7" r="2.95"/><circle cx="792.61" cy="507.71" r="2.95"/><circle cx="796.15" cy="502.13" r="2.95"/><circle cx="799.69" cy="504.82" r="2.95"/><circle cx="803.23" cy="510.13" r="2.95"/><circle cx="806.77" cy="509.94" r="2.95"/><circle cx="810.31" cy="516.05" r="2.95"/><circle cx="813.85" cy="515.47" r="2.95"/><circle cx="817.39" cy="517.98" r="2.95"/><circle cx="820.93" cy="518.55" r="2.95"/><circle cx="824.47" cy="517.74" r="2.95"/><circle cx="828.01" cy="518.13" r="2.95"/><circle cx="831.55" cy="518.05" r="2.95"/><circle cx="835.09" cy="518.55" r="2.95"/><circle cx="838.63" cy="518.77" r="2.95"/><circle cx="842.17" cy="518.63" r="2.95"/><circle cx="845.71" cy="517.69" r="2.95"/><circle cx="849.25" cy="519.79" r="2.95"/><circle cx="852.79" cy="521.57" r="2.95"/><circle cx="856.33" cy="519.93" r="2.95"/><circle cx="859.87" cy="520.2" r="2.95"/><circle cx="863.41" cy="517.4" r="2.95"/><circle cx="866.95" cy="521.68" r="2.95"/><circle cx="870.49" cy="518.47" r="2.95"/><circle cx="874.03" cy="523.49" r="2.95"/><circle cx="877.57" cy="519.59" r="2.95"/><circle cx="881.11" cy="520.89" r="2.95"/><circle cx="884.65" cy="519.09" r="2.95"/><circle cx="888.19" cy="520.66" r="2.95"/><circle cx="891.73" cy="522.25" r="2.95"/><circle cx="895.27" cy="520.18" r="2.95"/><circle cx="898.81" cy="523.45" r="2.95"/><circle cx="902.35" cy="521.87" r="2.95"/><circle cx="905.89" cy="522.25" r="2.95"/><circle cx="909.43" cy="519.34" r="2.95"/><circle cx="912.97" cy="522.56" r="2.95"/><circle cx="916.51" cy="520.37" r="2.95"/><circle cx="920.05" cy="515.78" r="2.95"/><circle cx="923.59" cy="518.82" r="2.95"/><circle cx="927.13" cy="521.96" r="2.95"/><circle cx="930.67" cy="518.14" r="2.95"/><circle cx="934.21" cy="528.09" r="2.95"/><circle cx="937.75" cy="522.35" r="2.95"/><circle cx="941.29" cy="527.61" r="2.95"/><circle cx="944.83" cy="512.42" r="2.95"/><circle cx="948.37" cy="525.52" r="2.95"/><circle cx="742.9" cy="472.12" r="2.95"/><circle cx="746.45" cy="472.12" r="2.95"/><circle cx="750" cy="472.12" r="2.95"/><circle cx="753.55" cy="472.12" r="2.95"/><circle cx="757.1" cy="472.12" r="2.95"/><circle cx="760.65" cy="472.12" r="2.95"/><circle cx="767.8" cy="472.12" r="2.95"/><circle cx="963.7" cy="516.46" r="2.95"/><circle cx="967.17" cy="508.35" r="2.95"/><circle cx="970.65" cy="534.43" r="2.95"/><circle cx="974.71" cy="511.83" r="2.95"/><circle cx="978.19" cy="526.9" r="2.95"/><circle cx="981.67" cy="531.54" r="2.95"/><circle cx="985.14" cy="532.7" r="2.95"/><circle cx="988.62" cy="532.12" r="2.95"/><circle cx="992.1" cy="533.28" r="2.95"/><circle cx="996.16" cy="521.1" r="2.95"/><circle cx="999.64" cy="523.42" r="2.95"/><circle cx="1003.12" cy="519.36" r="2.95"/><circle cx="1006.59" cy="497.91" r="2.95"/><circle cx="1010.07" cy="532.7" r="2.95"/><circle cx="1013.55" cy="517.62" r="2.95"/><circle cx="1017.03" cy="524.58" r="2.95"/><circle cx="1021.09" cy="507.77" r="2.95"/><circle cx="1023.99" cy="544.29" r="2.95"/><circle cx="1026.3" cy="528.06" r="2.95"/><circle cx="1029.78" cy="533.86" r="2.95"/><circle cx="1033.26" cy="537.33" r="2.95"/><circle cx="1035.58" cy="517.04" r="2.95"/><circle cx="1037.9" cy="478.2" r="2.95"/><circle cx="1039.64" cy="501.97" r="2.95"/><circle cx="1041.38" cy="501.97" r="2.95"/><circle cx="1042.54" cy="478.2" r="2.95"/><circle cx="1044.86" cy="530.96" r="2.95"/><circle cx="1047.17" cy="530.96" r="2.95"/><circle cx="1049.49" cy="478.2" r="2.95"/><circle cx="1063.99" cy="517.04" r="2.95"/><circle cx="1070.36" cy="478.2" r="2.95"/><circle cx="1077.9" cy="478.2" r="2.95"/><circle cx="1081.38" cy="517.04" r="2.95"/><circle cx="1088.33" cy="548.93" r="2.95"/><circle cx="1095.87" cy="548.93" r="2.95"/><circle cx="1051.81" cy="545.7" r="2.95"/><circle cx="1055.29" cy="545.7" r="2.95"/><circle cx="1058.77" cy="545.7" r="2.95"/><circle cx="1062.25" cy="545.7" r="2.95"/><circle cx="1065.72" cy="545.7" r="2.95"/><circle cx="1069.2" cy="545.7" r="2.95"/><circle cx="1072.68" cy="545.7" r="2.95"/><circle cx="1076.16" cy="545.7" r="2.95"/><circle cx="1079.64" cy="545.7" r="2.95"/><circle cx="1083.12" cy="545.7" r="2.95"/><circle cx="1086.59" cy="545.7" r="2.95"/><circle cx="1090.07" cy="545.7" r="2.95"/><circle cx="1093.55" cy="545.7" r="2.95"/><circle cx="1097.03" cy="545.7" r="2.95"/></g><rect x="725.6" y="4.3" width="388" height="455.4" fill="none" stroke="#000" stroke-width="2.6"/><rect x="725.6" y="489.1" width="388" height="56.6" fill="none" stroke="#000" stroke-width="2.6"/><text transform="translate(893.53,610.8) scale(0.9638,1)" text-anchor="start" font-size="29.7">Jet Energy (GeV)</text><text transform="translate(596.2,2.91) rotate(-90) scale(0.9650,1)" text-anchor="end" font-size="29.7">Entries (norm.)</text><text transform="translate(596.2,488.04) rotate(-90) scale(0.9650,1)" text-anchor="end" font-size="29.7">Gen/Input</text></g>
<g><path d="M1302.8 442.29h8.2M1708.7 442.29h-8.2" stroke="#000" stroke-width="1.5"/><path d="M1302.8 426.18h8.2M1708.7 426.18h-8.2" stroke="#000" stroke-width="1.5"/><path d="M1302.8 410.08h8.2M1708.7 410.08h-8.2" stroke="#000" stroke-width="1.5"/><path d="M1302.8 393.97h8.2M1708.7 393.97h-8.2" stroke="#000" stroke-width="1.5"/><path d="M1302.8 377.86h17M1708.7 377.86h-17" stroke="#000" stroke-width="1.8"/><path d="M1302.8 361.75h8.2M1708.7 361.75h-8.2" stroke="#000" stroke-width="1.5"/><path d="M1302.8 345.64h8.2M1708.7 345.64h-8.2" stroke="#000" stroke-width="1.5"/><path d="M1302.8 329.54h8.2M1708.7 329.54h-8.2" stroke="#000" stroke-width="1.5"/><path d="M1302.8 313.43h8.2M1708.7 313.43h-8.2" stroke="#000" stroke-width="1.5"/><path d="M1302.8 297.32h17M1708.7 297.32h-17" stroke="#000" stroke-width="1.8"/><path d="M1302.8 281.21h8.2M1708.7 281.21h-8.2" stroke="#000" stroke-width="1.5"/><path d="M1302.8 265.1h8.2M1708.7 265.1h-8.2" stroke="#000" stroke-width="1.5"/><path d="M1302.8 249h8.2M1708.7 249h-8.2" stroke="#000" stroke-width="1.5"/><path d="M1302.8 232.89h8.2M1708.7 232.89h-8.2" stroke="#000" stroke-width="1.5"/><path d="M1302.8 216.78h17M1708.7 216.78h-17" stroke="#000" stroke-width="1.8"/><path d="M1302.8 200.67h8.2M1708.7 200.67h-8.2" stroke="#000" stroke-width="1.5"/><path d="M1302.8 184.56h8.2M1708.7 184.56h-8.2" stroke="#000" stroke-width="1.5"/><path d="M1302.8 168.46h8.2M1708.7 168.46h-8.2" stroke="#000" stroke-width="1.5"/><path d="M1302.8 152.35h8.2M1708.7 152.35h-8.2" stroke="#000" stroke-width="1.5"/><path d="M1302.8 136.24h17M1708.7 136.24h-17" stroke="#000" stroke-width="1.8"/><path d="M1302.8 120.13h8.2M1708.7 120.13h-8.2" stroke="#000" stroke-width="1.5"/><path d="M1302.8 104.02h8.2M1708.7 104.02h-8.2" stroke="#000" stroke-width="1.5"/><path d="M1302.8 87.92h8.2M1708.7 87.92h-8.2" stroke="#000" stroke-width="1.5"/><path d="M1302.8 71.81h8.2M1708.7 71.81h-8.2" stroke="#000" stroke-width="1.5"/><path d="M1302.8 55.7h17M1708.7 55.7h-17" stroke="#000" stroke-width="1.8"/><path d="M1302.8 39.59h8.2M1708.7 39.59h-8.2" stroke="#000" stroke-width="1.5"/><path d="M1302.8 23.48h8.2M1708.7 23.48h-8.2" stroke="#000" stroke-width="1.5"/><path d="M1302.8 7.38h8.2M1708.7 7.38h-8.2" stroke="#000" stroke-width="1.5"/><text transform="translate(1297.2,469.9) scale(0.9230,1)" text-anchor="end" font-size="33.8">0.0000</text><text transform="translate(1297.2,389.36) scale(0.9230,1)" text-anchor="end" font-size="33.8">0.0005</text><text transform="translate(1297.2,308.82) scale(0.9230,1)" text-anchor="end" font-size="33.8">0.0010</text><text transform="translate(1297.2,228.28) scale(0.9230,1)" text-anchor="end" font-size="33.8">0.0015</text><text transform="translate(1297.2,147.74) scale(0.9230,1)" text-anchor="end" font-size="33.8">0.0020</text><text transform="translate(1297.2,67.2) scale(0.9230,1)" text-anchor="end" font-size="33.8">0.0025</text><path d="M1302.8 529.57h8.2M1708.7 529.57h-8.2" stroke="#000" stroke-width="1.5"/><path d="M1302.8 500.12h8.2M1708.7 500.12h-8.2" stroke="#000" stroke-width="1.5"/><text transform="translate(1297.13,555.8) scale(0.9230,1)" text-anchor="end" font-size="33.8">0</text><text transform="translate(1297.44,496.9) scale(0.9230,1)" text-anchor="end" font-size="33.8">2</text><path d="M1319.5 544.3v-17M1319.5 485.4v17" stroke="#000" stroke-width="1.8"/><path d="M1344.28 544.3v-8.2M1344.28 485.4v8.2" stroke="#000" stroke-width="1.5"/><path d="M1369.06 544.3v-8.2M1369.06 485.4v8.2" stroke="#000" stroke-width="1.5"/><path d="M1393.84 544.3v-8.2M1393.84 485.4v8.2" stroke="#000" stroke-width="1.5"/><path d="M1418.62 544.3v-8.2M1418.62 485.4v8.2" stroke="#000" stroke-width="1.5"/><path d="M1443.4 544.3v-17M1443.4 485.4v17" stroke="#000" stroke-width="1.8"/><path d="M1468.18 544.3v-8.2M1468.18 485.4v8.2" stroke="#000" stroke-width="1.5"/><path d="M1492.96 544.3v-8.2M1492.96 485.4v8.2" stroke="#000" stroke-width="1.5"/><path d="M1517.74 544.3v-8.2M1517.74 485.4v8.2" stroke="#000" stroke-width="1.5"/><path d="M1542.52 544.3v-8.2M1542.52 485.4v8.2" stroke="#000" stroke-width="1.5"/><path d="M1567.3 544.3v-17M1567.3 485.4v17" stroke="#000" stroke-width="1.8"/><path d="M1592.08 544.3v-8.2M1592.08 485.4v8.2" stroke="#000" stroke-width="1.5"/><path d="M1616.86 544.3v-8.2M1616.86 485.4v8.2" stroke="#000" stroke-width="1.5"/><path d="M1641.64 544.3v-8.2M1641.64 485.4v8.2" stroke="#000" stroke-width="1.5"/><path d="M1666.42 544.3v-8.2M1666.42 485.4v8.2" stroke="#000" stroke-width="1.5"/><path d="M1691.2 544.3v-17M1691.2 485.4v17" stroke="#000" stroke-width="1.8"/><text transform="translate(1318.94,576.5) scale(0.9230,1)" text-anchor="middle" font-size="33.8">0</text><text transform="translate(1442.35,576.5) scale(0.9230,1)" text-anchor="middle" font-size="33.8">1000</text><text transform="translate(1566.72,576.5) scale(0.9230,1)" text-anchor="middle" font-size="33.8">2000</text><text transform="translate(1690.77,576.5) scale(0.9230,1)" text-anchor="middle" font-size="33.8">3000</text><g clip-path="url(#c_pt)" fill="none" stroke-width="2.2"><path d="M1334.65 458.4V458.6H1338.39V458.6H1342.12V458.6H1345.86V458.6H1349.59V458.6H1353.33V458.6H1357.06V458.6H1360.8V458.5H1364.53V458H1368.27V456.2H1372V454.8H1375.74V454.2H1379.47V454.2H1383.21V450.8H1386.94V446H1390.68V443.8H1394.41V438.8H1398.15V421.3H1401.88V414.6H1405.62V400.4H1409.35V375.8H1413.09V343.9H1416.82V314.5H1420.56V276.2H1424.29V212.1H1428.03V182.2H1431.76V111.4H1435.5V69.8H1439.23V22.6H1442.97V27.8H1446.7V53H1450.44V108.1H1454.17V153.3H1457.91V212.1H1461.64V247.6H1465.38V283.6H1469.11V307.5H1472.85V334.6H1476.58V365H1480.32V382.7H1484.05V391.4H1487.79V404.9H1491.52V412.8H1495.26V422.4H1498.99V425H1502.73V431.5H1506.46V438.1H1510.2V441.5H1513.93V442.4H1517.67V448.5H1521.4V447.2H1525.14V451.1H1528.87V452H1532.61V452.4H1536.34V454.2H1540.08V454.2H1543.81V454.2H1547.55V455.1H1551.28V455.1H1555.02V455.9H1558.75V455.9H1562.49V456.4H1566.22V456.5H1569.96V456.8H1573.69V456.6H1577.43V457H1581.16V457.2H1584.9V457.1H1588.63V457.4H1592.37V457.5H1596.1V457.3H1599.84V457.6H1603.57V458H1607.31V458.3H1611.04V458.5H1614.78V458.4" stroke="#b0000f"/><path d="M1334.65 458.4V457.6H1338.39V457.2H1342.12V457H1345.86V456.8H1349.59V456.5H1353.33V456.5H1357.06V456H1360.8V455H1364.53V452.5H1368.27V448H1372V446.5H1375.74V447H1379.47V447.5H1383.21V436.5H1386.94V431H1390.68V423.4H1394.41V414.6H1398.15V400.4H1401.88V378.3H1405.62V361.2H1409.35V337.4H1413.09V306.1H1416.82V256.3H1420.56V212.1H1424.29V181.1H1428.03V124.4H1431.76V111H1435.5V86.6H1439.23V61.9H1442.97V86.6H1446.7V116.5H1450.44V135.8H1454.17V179.4H1457.91V229H1461.64V265H1465.38V299.5H1469.11V322H1472.85V358.4H1476.58V384.9H1480.32V395.8H1484.05V410.6H1487.79V418H1491.52V428H1495.26V432H1498.99V442H1502.73V445H1506.46V449H1510.2V449.5H1513.93V451.7H1517.67V453H1521.4V455.5H1525.14V456H1528.87V456.5H1532.61V456.5H1536.34V457H1540.08V457H1543.81V457.2H1547.55V457.3H1551.28V457.5H1555.02V457.5H1558.75V457.6H1562.49V457.8H1566.22V457.9H1569.96V458H1573.69V458.1H1577.43V458.2H1581.16V458.3H1584.9V458.4H1588.63V458.4H1592.37V458.4H1596.1V458.4H1599.84V458.4H1603.57V458.4H1607.31V458.4H1611.04V458.4H1614.78V458.4" stroke="#007f96" stroke-dasharray="4.7 2.3"/></g><g clip-path="url(#r_pt)" stroke="#007f96" fill="none" stroke-width="2"><path d="M1326.5 544.3V485.4" stroke-opacity="0.22"/><path d="M1330.23 544.3V485.4" stroke-opacity="0.22"/><path d="M1333.96 544.3V485.4" stroke-opacity="0.22"/><path d="M1337.69 544.3V485.4" stroke-opacity="0.22"/><path d="M1341.42 544.3V485.4" stroke-opacity="0.22"/><path d="M1345.15 544.3V485.4" stroke-opacity="0.22"/><path d="M1348.88 544.3V485.4" stroke-opacity="0.22"/><path d="M1352.61 544.3V485.4" stroke-opacity="0.22"/><path d="M1356.34 544.3V485.4" stroke-opacity="0.22"/><path d="M1360.07 544.3V485.4" stroke-opacity="0.22"/><path d="M1387.71 490.36V468.09"/><path d="M1384.91 490.36h5.6"/><path d="M1384.91 468.09h5.6"/><path d="M1391.45 484.7V462.7"/><path d="M1388.65 484.7h5.6"/><path d="M1388.65 462.7h5.6"/><path d="M1395.18 487.43V469.55"/><path d="M1392.38 487.43h5.6"/><path d="M1392.38 469.55h5.6"/><path d="M1398.92 503.1V493.42"/><path d="M1396.12 503.1h5.6"/><path d="M1396.12 493.42h5.6"/><path d="M1402.65 495.5V485.38"/><path d="M1399.85 495.5h5.6"/><path d="M1399.85 485.38h5.6"/><path d="M1406.39 499.04V490.85"/><path d="M1403.59 499.04h5.6"/><path d="M1403.59 490.85h5.6"/><path d="M1410.12 504.24V498.08"/><path d="M1407.32 504.24h5.6"/><path d="M1407.32 498.08h5.6"/><path d="M1413.86 507.55V502.7"/><path d="M1411.06 507.55h5.6"/><path d="M1411.06 502.7h5.6"/><path d="M1417.59 505.19V500.68"/><path d="M1414.79 505.19h5.6"/><path d="M1414.79 500.68h5.6"/><path d="M1421.33 506.43V502.54"/><path d="M1418.53 506.43h5.6"/><path d="M1418.53 502.54h5.6"/><path d="M1425.06 512.59V509.69"/><path d="M1422.26 512.59h5.6"/><path d="M1422.26 509.69h5.6"/><path d="M1428.8 510.14V507.24"/><path d="M1426 510.14h5.6"/><path d="M1426 507.24h5.6"/><path d="M1432.53 515.93V513.7"/><path d="M1429.73 515.93h5.6"/><path d="M1429.73 513.7h5.6"/><path d="M1436.27 517.15V515.1"/><path d="M1433.47 517.15h5.6"/><path d="M1433.47 515.1h5.6"/><path d="M1440 518.44V516.58"/><path d="M1437.2 518.44h5.6"/><path d="M1437.2 516.58h5.6"/><path d="M1443.74 519.77V517.97"/><path d="M1440.94 519.77h5.6"/><path d="M1440.94 517.97h5.6"/><path d="M1447.47 520.37V518.55"/><path d="M1444.67 520.37h5.6"/><path d="M1444.67 518.55h5.6"/><path d="M1451.21 518.23V516.13"/><path d="M1448.41 518.23h5.6"/><path d="M1448.41 516.13h5.6"/><path d="M1454.94 518.48V516.25"/><path d="M1452.14 518.48h5.6"/><path d="M1452.14 516.25h5.6"/><path d="M1458.68 518.13V515.61"/><path d="M1455.88 518.13h5.6"/><path d="M1455.88 515.61h5.6"/><path d="M1462.41 518.63V515.94"/><path d="M1459.61 518.63h5.6"/><path d="M1459.61 515.94h5.6"/><path d="M1466.15 519V516.06"/><path d="M1463.35 519h5.6"/><path d="M1463.35 516.06h5.6"/><path d="M1469.88 519.25V516.11"/><path d="M1467.08 519.25h5.6"/><path d="M1467.08 516.11h5.6"/><path d="M1473.62 522.11V518.91"/><path d="M1470.82 522.11h5.6"/><path d="M1470.82 518.91h5.6"/><path d="M1477.35 522.93V519.32"/><path d="M1474.55 522.93h5.6"/><path d="M1474.55 519.32h5.6"/><path d="M1481.09 522.03V517.87"/><path d="M1478.29 522.03h5.6"/><path d="M1478.29 517.87h5.6"/><path d="M1484.82 525.28V521.3"/><path d="M1482.02 525.28h5.6"/><path d="M1482.02 521.3h5.6"/><path d="M1488.56 524.38V519.74"/><path d="M1485.76 524.38h5.6"/><path d="M1485.76 519.74h5.6"/><path d="M1492.29 526.97V522.37"/><path d="M1489.49 526.97h5.6"/><path d="M1489.49 522.37h5.6"/><path d="M1496.03 525.47V519.94"/><path d="M1493.23 525.47h5.6"/><path d="M1493.23 519.94h5.6"/><path d="M1499.76 532.02V527.66"/><path d="M1496.96 532.02h5.6"/><path d="M1496.96 527.66h5.6"/><path d="M1503.5 532.08V527.18"/><path d="M1500.7 532.08h5.6"/><path d="M1500.7 527.18h5.6"/><path d="M1507.23 533.35V527.97"/><path d="M1504.43 533.35h5.6"/><path d="M1504.43 527.97h5.6"/><path d="M1510.97 532V525.58"/><path d="M1508.17 532h5.6"/><path d="M1508.17 525.58h5.6"/><path d="M1514.7 534.81V529.13"/><path d="M1511.9 534.81h5.6"/><path d="M1511.9 529.13h5.6"/><path d="M1518.44 532.53V523.94"/><path d="M1515.64 532.53h5.6"/><path d="M1515.64 523.94h5.6"/><path d="M1522.17 539.19V534.16"/><path d="M1519.37 539.19h5.6"/><path d="M1519.37 534.16h5.6"/><path d="M1525.91 538.22V531.02"/><path d="M1523.11 538.22h5.6"/><path d="M1523.11 531.02h5.6"/><path d="M1529.64 539.17V531.95"/><path d="M1526.84 539.17h5.6"/><path d="M1526.84 531.95h5.6"/><path d="M1533.38 538.86V531.09"/><path d="M1530.58 538.86h5.6"/><path d="M1530.58 531.09h5.6"/><path d="M1324.5 544.3V514.85"/><path d="M1321.7 544.3h5.6"/><path d="M1321.7 514.85h5.6"/><path d="M1328.5 617.92V323.43"/><path d="M1325.7 617.92h5.6"/><path d="M1325.7 323.43h5.6"/><path d="M1332.23 617.92V323.43"/><path d="M1329.43 617.92h5.6"/><path d="M1329.43 323.43h5.6"/><path d="M1335.96 617.92V323.43"/><path d="M1333.16 617.92h5.6"/><path d="M1333.16 323.43h5.6"/><path d="M1339.69 617.92V323.43"/><path d="M1336.89 617.92h5.6"/><path d="M1336.89 323.43h5.6"/><path d="M1343.42 617.92V323.43"/><path d="M1340.62 617.92h5.6"/><path d="M1340.62 323.43h5.6"/><path d="M1347.15 617.92V323.43"/><path d="M1344.35 617.92h5.6"/><path d="M1344.35 323.43h5.6"/><path d="M1350.88 617.92V323.43"/><path d="M1348.08 617.92h5.6"/><path d="M1348.08 323.43h5.6"/><path d="M1354.61 617.92V323.43"/><path d="M1351.81 617.92h5.6"/><path d="M1351.81 323.43h5.6"/><path d="M1358.34 617.92V323.43"/><path d="M1355.54 617.92h5.6"/><path d="M1355.54 323.43h5.6"/><path d="M1361.8 506.4V441.23"/><path d="M1359 506.4h5.6"/><path d="M1359 441.23h5.6"/><path d="M1537.13 536.61V517.74"/><path d="M1534.33 536.61h5.6"/><path d="M1534.33 517.74h5.6"/><path d="M1541.39 537.22V525.05"/><path d="M1538.59 537.22h5.6"/><path d="M1538.59 525.05h5.6"/><path d="M1545.05 540.87V532.35"/><path d="M1542.25 540.87h5.6"/><path d="M1542.25 532.35h5.6"/><path d="M1548.7 528.7V505.57"/><path d="M1545.9 528.7h5.6"/><path d="M1545.9 505.57h5.6"/><path d="M1552.35 531.13V516.52"/><path d="M1549.55 531.13h5.6"/><path d="M1549.55 516.52h5.6"/><path d="M1556 542.09V526.26"/><path d="M1553.2 542.09h5.6"/><path d="M1553.2 526.26h5.6"/><path d="M1559.65 548.18V539.05"/><path d="M1556.85 548.18h5.6"/><path d="M1556.85 539.05h5.6"/><path d="M1563.31 530.52V486.7"/><path d="M1560.51 530.52h5.6"/><path d="M1560.51 486.7h5.6"/><path d="M1566.96 548.18V511.65"/><path d="M1564.16 548.18h5.6"/><path d="M1564.16 511.65h5.6"/><path d="M1569.39 539.65V504.96"/><path d="M1566.59 539.65h5.6"/><path d="M1566.59 504.96h5.6"/><path d="M1573.05 539.65V504.96"/><path d="M1570.25 539.65h5.6"/><path d="M1570.25 504.96h5.6"/><path d="M1574.87 538.44V489.74"/><path d="M1572.07 538.44h5.6"/><path d="M1572.07 489.74h5.6"/><path d="M1579.13 548.18V516.52"/><path d="M1576.33 548.18h5.6"/><path d="M1576.33 516.52h5.6"/><path d="M1582.79 548.18V523.22"/><path d="M1579.99 548.18h5.6"/><path d="M1579.99 523.22h5.6"/><path d="M1586.44 548.18V523.22"/><path d="M1583.64 548.18h5.6"/><path d="M1583.64 523.22h5.6"/><path d="M1601.05 548.18V523.22"/><path d="M1598.25 548.18h5.6"/><path d="M1598.25 523.22h5.6"/><path d="M1619.92 548.18V515.91"/><path d="M1617.12 548.18h5.6"/><path d="M1617.12 515.91h5.6"/><path d="M1649.74 548.18V515.91"/><path d="M1646.94 548.18h5.6"/><path d="M1646.94 515.91h5.6"/><path d="M1671.66 548.18V515.91"/><path d="M1668.86 548.18h5.6"/><path d="M1668.86 515.91h5.6"/></g><path d="M1302.8 514.85H1708.7" stroke="#808080" stroke-width="2.4"/><g clip-path="url(#r_pt)" fill="#007f96"><circle cx="1387.71" cy="479.22" r="2.95"/><circle cx="1391.45" cy="473.7" r="2.95"/><circle cx="1395.18" cy="478.49" r="2.95"/><circle cx="1398.92" cy="498.26" r="2.95"/><circle cx="1402.65" cy="490.44" r="2.95"/><circle cx="1406.39" cy="494.95" r="2.95"/><circle cx="1410.12" cy="501.16" r="2.95"/><circle cx="1413.86" cy="505.13" r="2.95"/><circle cx="1417.59" cy="502.94" r="2.95"/><circle cx="1421.33" cy="504.49" r="2.95"/><circle cx="1425.06" cy="511.14" r="2.95"/><circle cx="1428.8" cy="508.69" r="2.95"/><circle cx="1432.53" cy="514.82" r="2.95"/><circle cx="1436.27" cy="516.12" r="2.95"/><circle cx="1440" cy="517.51" r="2.95"/><circle cx="1443.74" cy="518.87" r="2.95"/><circle cx="1447.47" cy="519.46" r="2.95"/><circle cx="1451.21" cy="517.18" r="2.95"/><circle cx="1454.94" cy="517.37" r="2.95"/><circle cx="1458.68" cy="516.87" r="2.95"/><circle cx="1462.41" cy="517.28" r="2.95"/><circle cx="1466.15" cy="517.53" r="2.95"/><circle cx="1469.88" cy="517.68" r="2.95"/><circle cx="1473.62" cy="520.51" r="2.95"/><circle cx="1477.35" cy="521.12" r="2.95"/><circle cx="1481.09" cy="519.95" r="2.95"/><circle cx="1484.82" cy="523.29" r="2.95"/><circle cx="1488.56" cy="522.06" r="2.95"/><circle cx="1492.29" cy="524.67" r="2.95"/><circle cx="1496.03" cy="522.7" r="2.95"/><circle cx="1499.76" cy="529.84" r="2.95"/><circle cx="1503.5" cy="529.63" r="2.95"/><circle cx="1507.23" cy="530.66" r="2.95"/><circle cx="1510.97" cy="528.79" r="2.95"/><circle cx="1514.7" cy="531.97" r="2.95"/><circle cx="1518.44" cy="528.24" r="2.95"/><circle cx="1522.17" cy="536.67" r="2.95"/><circle cx="1525.91" cy="534.62" r="2.95"/><circle cx="1529.64" cy="535.56" r="2.95"/><circle cx="1533.38" cy="534.97" r="2.95"/><circle cx="1324.5" cy="544.3" r="2.95"/><circle cx="1328.5" cy="470.67" r="2.95"/><circle cx="1332.23" cy="470.67" r="2.95"/><circle cx="1335.96" cy="470.67" r="2.95"/><circle cx="1339.69" cy="470.67" r="2.95"/><circle cx="1343.42" cy="470.67" r="2.95"/><circle cx="1347.15" cy="470.67" r="2.95"/><circle cx="1350.88" cy="470.67" r="2.95"/><circle cx="1354.61" cy="470.67" r="2.95"/><circle cx="1358.34" cy="470.67" r="2.95"/><circle cx="1361.8" cy="470.67" r="2.95"/><circle cx="1537.13" cy="525.05" r="2.95"/><circle cx="1541.39" cy="529.91" r="2.95"/><circle cx="1545.05" cy="537.22" r="2.95"/><circle cx="1548.7" cy="517.13" r="2.95"/><circle cx="1552.35" cy="523.83" r="2.95"/><circle cx="1556" cy="533.57" r="2.95"/><circle cx="1559.65" cy="541.48" r="2.95"/><circle cx="1563.31" cy="508.61" r="2.95"/><circle cx="1566.96" cy="531.13" r="2.95"/><circle cx="1569.39" cy="522" r="2.95"/><circle cx="1573.05" cy="522" r="2.95"/><circle cx="1574.87" cy="514.7" r="2.95"/><circle cx="1579.13" cy="533.57" r="2.95"/><circle cx="1582.79" cy="534.78" r="2.95"/><circle cx="1586.44" cy="535.39" r="2.95"/><circle cx="1601.05" cy="535.39" r="2.95"/><circle cx="1619.92" cy="548.18" r="2.95"/><circle cx="1649.74" cy="548.18" r="2.95"/><circle cx="1671.66" cy="548.18" r="2.95"/><circle cx="1587.66" cy="544.3" r="2.95"/><circle cx="1591.06" cy="544.3" r="2.95"/><circle cx="1594.47" cy="544.3" r="2.95"/><circle cx="1597.88" cy="544.3" r="2.95"/><circle cx="1601.29" cy="544.3" r="2.95"/><circle cx="1604.7" cy="544.3" r="2.95"/><circle cx="1608.11" cy="544.3" r="2.95"/><circle cx="1611.52" cy="544.3" r="2.95"/><circle cx="1614.93" cy="544.3" r="2.95"/><circle cx="1618.33" cy="544.3" r="2.95"/><circle cx="1621.74" cy="544.3" r="2.95"/><circle cx="1625.15" cy="544.3" r="2.95"/><circle cx="1628.56" cy="544.3" r="2.95"/><circle cx="1631.97" cy="544.3" r="2.95"/><circle cx="1635.38" cy="544.3" r="2.95"/><circle cx="1638.79" cy="544.3" r="2.95"/><circle cx="1642.2" cy="544.3" r="2.95"/><circle cx="1645.61" cy="544.3" r="2.95"/><circle cx="1649.01" cy="544.3" r="2.95"/><circle cx="1652.42" cy="544.3" r="2.95"/><circle cx="1655.83" cy="544.3" r="2.95"/><circle cx="1659.24" cy="544.3" r="2.95"/><circle cx="1662.65" cy="544.3" r="2.95"/><circle cx="1666.06" cy="544.3" r="2.95"/><circle cx="1669.47" cy="544.3" r="2.95"/><circle cx="1672.88" cy="544.3" r="2.95"/><circle cx="1676.28" cy="544.3" r="2.95"/><circle cx="1679.69" cy="544.3" r="2.95"/><circle cx="1683.1" cy="544.3" r="2.95"/><circle cx="1686.51" cy="544.3" r="2.95"/><circle cx="1689.92" cy="544.3" r="2.95"/></g><rect x="1302.8" y="1.3" width="405.9" height="457.1" fill="none" stroke="#000" stroke-width="2.6"/><rect x="1302.8" y="485.4" width="405.9" height="58.9" fill="none" stroke="#000" stroke-width="2.6"/><text transform="translate(1548.6,609.9) scale(0.9760,1)" font-size="29.7">Jet p<tspan font-size="21.3" dy="4.6">T</tspan><tspan dy="-4.6" font-size="29.7"> (GeV)</tspan></text><text transform="translate(1190.8,-0.09) rotate(-90) scale(0.9650,1)" text-anchor="end" font-size="29.7">Entries (norm.)</text><text transform="translate(1190.8,484.34) rotate(-90) scale(0.9650,1)" text-anchor="end" font-size="29.7">Gen/Input</text></g>
<g><path d="M372.7 1099.69h8.2M843.7 1099.69h-8.2" stroke="#000" stroke-width="1.5"/><path d="M372.7 1083.88h8.2M843.7 1083.88h-8.2" stroke="#000" stroke-width="1.5"/><path d="M372.7 1068.06h8.2M843.7 1068.06h-8.2" stroke="#000" stroke-width="1.5"/><path d="M372.7 1052.25h8.2M843.7 1052.25h-8.2" stroke="#000" stroke-width="1.5"/><path d="M372.7 1036.44h17M843.7 1036.44h-17" stroke="#000" stroke-width="1.8"/><path d="M372.7 1020.63h8.2M843.7 1020.63h-8.2" stroke="#000" stroke-width="1.5"/><path d="M372.7 1004.82h8.2M843.7 1004.82h-8.2" stroke="#000" stroke-width="1.5"/><path d="M372.7 989h8.2M843.7 989h-8.2" stroke="#000" stroke-width="1.5"/><path d="M372.7 973.19h8.2M843.7 973.19h-8.2" stroke="#000" stroke-width="1.5"/><path d="M372.7 957.38h17M843.7 957.38h-17" stroke="#000" stroke-width="1.8"/><path d="M372.7 941.57h8.2M843.7 941.57h-8.2" stroke="#000" stroke-width="1.5"/><path d="M372.7 925.76h8.2M843.7 925.76h-8.2" stroke="#000" stroke-width="1.5"/><path d="M372.7 909.94h8.2M843.7 909.94h-8.2" stroke="#000" stroke-width="1.5"/><path d="M372.7 894.13h8.2M843.7 894.13h-8.2" stroke="#000" stroke-width="1.5"/><path d="M372.7 878.32h17M843.7 878.32h-17" stroke="#000" stroke-width="1.8"/><path d="M372.7 862.51h8.2M843.7 862.51h-8.2" stroke="#000" stroke-width="1.5"/><path d="M372.7 846.7h8.2M843.7 846.7h-8.2" stroke="#000" stroke-width="1.5"/><path d="M372.7 830.88h8.2M843.7 830.88h-8.2" stroke="#000" stroke-width="1.5"/><path d="M372.7 815.07h8.2M843.7 815.07h-8.2" stroke="#000" stroke-width="1.5"/><path d="M372.7 799.26h17M843.7 799.26h-17" stroke="#000" stroke-width="1.8"/><path d="M372.7 783.45h8.2M843.7 783.45h-8.2" stroke="#000" stroke-width="1.5"/><path d="M372.7 767.64h8.2M843.7 767.64h-8.2" stroke="#000" stroke-width="1.5"/><path d="M372.7 751.82h8.2M843.7 751.82h-8.2" stroke="#000" stroke-width="1.5"/><path d="M372.7 736.01h8.2M843.7 736.01h-8.2" stroke="#000" stroke-width="1.5"/><path d="M372.7 720.2h17M843.7 720.2h-17" stroke="#000" stroke-width="1.8"/><path d="M372.7 704.39h8.2M843.7 704.39h-8.2" stroke="#000" stroke-width="1.5"/><path d="M372.7 688.58h8.2M843.7 688.58h-8.2" stroke="#000" stroke-width="1.5"/><path d="M372.7 672.76h8.2M843.7 672.76h-8.2" stroke="#000" stroke-width="1.5"/><path d="M372.7 656.95h8.2M843.7 656.95h-8.2" stroke="#000" stroke-width="1.5"/><text transform="translate(367.15,1127) scale(0.9230,1)" text-anchor="end" font-size="33.8">0.0</text><text transform="translate(367.46,1047.94) scale(0.9230,1)" text-anchor="end" font-size="33.8">0.1</text><text transform="translate(367.46,968.88) scale(0.9230,1)" text-anchor="end" font-size="33.8">0.2</text><text transform="translate(367.15,889.82) scale(0.9230,1)" text-anchor="end" font-size="33.8">0.3</text><text transform="translate(366.84,810.76) scale(0.9230,1)" text-anchor="end" font-size="33.8">0.4</text><text transform="translate(367.15,731.7) scale(0.9230,1)" text-anchor="end" font-size="33.8">0.5</text><path d="M372.7 1191.5h8.2M843.7 1191.5h-8.2" stroke="#000" stroke-width="1.5"/><path d="M372.7 1156.9h8.2M843.7 1156.9h-8.2" stroke="#000" stroke-width="1.5"/><text transform="translate(367.03,1220.3) scale(0.9230,1)" text-anchor="end" font-size="33.8">0</text><text transform="translate(367.34,1151.1) scale(0.9230,1)" text-anchor="end" font-size="33.8">2</text><path d="M391.15 1208.8v-8.2M391.15 1139.6v8.2" stroke="#000" stroke-width="1.5"/><path d="M427.33 1208.8v-8.2M427.33 1139.6v8.2" stroke="#000" stroke-width="1.5"/><path d="M463.5 1208.8v-17M463.5 1139.6v17" stroke="#000" stroke-width="1.8"/><path d="M499.68 1208.8v-8.2M499.68 1139.6v8.2" stroke="#000" stroke-width="1.5"/><path d="M535.85 1208.8v-8.2M535.85 1139.6v8.2" stroke="#000" stroke-width="1.5"/><path d="M572.03 1208.8v-8.2M572.03 1139.6v8.2" stroke="#000" stroke-width="1.5"/><path d="M608.2 1208.8v-17M608.2 1139.6v17" stroke="#000" stroke-width="1.8"/><path d="M644.38 1208.8v-8.2M644.38 1139.6v8.2" stroke="#000" stroke-width="1.5"/><path d="M680.55 1208.8v-8.2M680.55 1139.6v8.2" stroke="#000" stroke-width="1.5"/><path d="M716.73 1208.8v-8.2M716.73 1139.6v8.2" stroke="#000" stroke-width="1.5"/><path d="M752.9 1208.8v-17M752.9 1139.6v17" stroke="#000" stroke-width="1.8"/><path d="M789.08 1208.8v-8.2M789.08 1139.6v8.2" stroke="#000" stroke-width="1.5"/><path d="M825.25 1208.8v-8.2M825.25 1139.6v8.2" stroke="#000" stroke-width="1.5"/><text transform="translate(463.14,1241) scale(0.9230,1)" text-anchor="middle" font-size="33.8">-2</text><text transform="translate(607.64,1241) scale(0.9230,1)" text-anchor="middle" font-size="33.8">0</text><text transform="translate(752.34,1241) scale(0.9230,1)" text-anchor="middle" font-size="33.8">2</text><g clip-path="url(#c_eta)" fill="none" stroke-width="2.2"><path d="M390.3 1115.5V1115.5H394.66V1115.5H399.02V1115.5H403.38V1115.2H407.74V1115.2H412.1V1115.2H416.46V1115.2H420.82V1115.2H425.18V1115.2H429.54V1115.2H433.9V1115.2H438.26V1115.2H442.62V1115.2H446.98V1115.2H451.34V1115.2H455.7V1115.2H460.06V1114.5H464.42V1113H468.78V1112.5H473.14V1111H477.5V1110H481.86V1109.8H486.22V1103.2H490.58V1093H494.94V1091.2H499.3V1070.5H503.66V1056.3H508.02V1054.2H512.38V1041.1H516.74V1008.9H521.1V994.7H525.46V966.3H529.82V952.6H534.18V945H538.54V910.1H542.9V899.8H547.26V873.1H551.62V852.3H555.98V834.3H560.34V825.6H564.7V777.6H569.06V760.2H573.42V741.6H577.78V740.2H582.14V717.3H586.5V726.6H590.86V704.2H595.22V667.2H599.58V679H603.94V671.8H608.3V664.7H612.66V689.6H617.02V666.2H621.38V691.2H625.74V718.2H630.1V719.2H634.46V742.4H638.82V738.5H643.18V762H647.54V799.6H651.9V802.9H656.26V799.6H660.62V840H664.98V855.2H669.34V871.8H673.7V905.6H678.06V928.5H682.42V971.6H686.78V960.7H691.14V1002.4H695.5V1024.2H699.86V1026.9H704.22V1045.4H708.58V1052H712.94V1070.5H717.3V1082.5H721.66V1092.3H726.02V1098.9H730.38V1104.3H734.74V1108.7H739.1V1111.4H743.46V1109.8H747.82V1113.6H752.18V1114.5H756.54V1115.2H760.9V1115.2H765.26V1115.2H769.62V1115.2H773.98V1115.2H778.34V1115.2H782.7V1115.2H787.06V1115.2H791.42V1115.2H795.78V1115.2H800.14V1115.2H804.5V1115.2H808.86V1115.5H813.22V1115.5H817.58V1115.5H821.94V1115.5H826.3V1115.5" stroke="#b0000f"/><path d="M390.3 1115.5V1115.5H394.66V1115.5H399.02V1115.5H403.38V1115.2H407.74V1115.2H412.1V1115.2H416.46V1115.2H420.82V1115.2H425.18V1115.2H429.54V1113.6H433.9V1113.6H438.26V1113.6H442.62V1113.6H446.98V1113.6H451.34V1113.6H455.7V1110.3H460.06V1109.8H464.42V1109.8H468.78V1106H473.14V1103.2H477.5V1101H481.86V1097H486.22V1093.4H490.58V1072.7H494.94V1076H499.3V1052.5H503.66V1052.5H508.02V1019.8H512.38V1013.8H516.74V982.1H521.1V966.3H525.46V940.7H529.82V930.8H534.18V891.6H538.54V881.8H542.9V845.8H547.26V847.4H551.62V805.4H555.98V800H560.34V784.7H564.7V759.6H569.06V739.7H573.42V731.3H577.78V731.3H582.14V718.2H586.5V707.9H590.86V685.5H595.22V692H599.58V694.8H603.94V675.3H608.3V700.5H612.66V724.8H617.02V690H621.38V732.2H625.74V718H630.1V734.1H634.46V765.3H638.82V775.6H643.18V789.8H647.54V811.1H651.9V833.4H656.26V846.5H660.62V879.4H664.98V901.3H669.34V923.1H673.7V932.9H678.06V956.3H682.42V982.5H686.78V990.4H691.14V1012.7H695.5V1024.7H699.86V1045.4H704.22V1058.5H708.58V1071.6H712.94V1081.4H717.3V1088H721.66V1093.4H726.02V1101.6H730.38V1106.5H734.74V1103.2H739.1V1108.1H743.46V1112H747.82V1110.3H752.18V1112H756.54V1113H760.9V1113.5H765.26V1113.5H769.62V1113.5H773.98V1113.6H778.34V1113.8H782.7V1113.8H787.06V1114H791.42V1114.2H795.78V1115.2H800.14V1115.2H804.5V1115.2H808.86V1115.5H813.22V1115.5H817.58V1115.5H821.94V1115.5H826.3V1115.5" stroke="#007f96" stroke-dasharray="4.7 2.3"/></g><g clip-path="url(#r_eta)" stroke="#007f96" fill="none" stroke-width="2"><path d="M430.57 1208.8V1139.6" stroke-opacity="0.22"/><path d="M434.89 1208.8V1139.6" stroke-opacity="0.22"/><path d="M439.34 1208.8V1139.6" stroke-opacity="0.22"/><path d="M443.65 1208.8V1139.6" stroke-opacity="0.22"/><path d="M447.97 1208.8V1139.6" stroke-opacity="0.22"/><path d="M452.42 1208.8V1139.6" stroke-opacity="0.22"/><path d="M456.73 1208.8V1139.6" stroke-opacity="0.22"/><path d="M764 1208.8V1139.6" stroke-opacity="0.22"/><path d="M768.17 1208.8V1139.6" stroke-opacity="0.22"/><path d="M772.35 1208.8V1139.6" stroke-opacity="0.22"/><path d="M776.8 1208.8V1139.6" stroke-opacity="0.22"/><path d="M504.74 1175.96V1168"/><path d="M501.94 1175.96h5.6"/><path d="M501.94 1168h5.6"/><path d="M509.1 1160.06V1149.5"/><path d="M506.3 1160.06h5.6"/><path d="M506.3 1149.5h5.6"/><path d="M513.46 1165.82V1157.19"/><path d="M510.66 1165.82h5.6"/><path d="M510.66 1157.19h5.6"/><path d="M517.82 1168.86V1162.14"/><path d="M515.02 1168.86h5.6"/><path d="M515.02 1162.14h5.6"/><path d="M522.18 1169.19V1162.94"/><path d="M519.38 1169.19h5.6"/><path d="M519.38 1162.94h5.6"/><path d="M526.54 1170.96V1165.56"/><path d="M523.74 1170.96h5.6"/><path d="M523.74 1165.56h5.6"/><path d="M530.9 1172.09V1167.05"/><path d="M528.1 1172.09h5.6"/><path d="M528.1 1167.05h5.6"/><path d="M535.26 1166.12V1160.6"/><path d="M532.46 1166.12h5.6"/><path d="M532.46 1160.6h5.6"/><path d="M539.62 1171.68V1167.18"/><path d="M536.82 1171.68h5.6"/><path d="M536.82 1167.18h5.6"/><path d="M543.98 1167.9V1163.18"/><path d="M541.18 1167.9h5.6"/><path d="M541.18 1163.18h5.6"/><path d="M548.34 1172.56V1168.5"/><path d="M545.54 1172.56h5.6"/><path d="M545.54 1168.5h5.6"/><path d="M552.7 1170.08V1165.99"/><path d="M549.9 1170.08h5.6"/><path d="M549.9 1165.99h5.6"/><path d="M557.06 1171.88V1168.08"/><path d="M554.26 1171.88h5.6"/><path d="M554.26 1168.08h5.6"/><path d="M561.42 1171.22V1167.42"/><path d="M558.62 1171.22h5.6"/><path d="M558.62 1167.42h5.6"/><path d="M565.78 1174.01V1170.7"/><path d="M562.98 1174.01h5.6"/><path d="M562.98 1170.7h5.6"/><path d="M570.14 1173.82V1170.59"/><path d="M567.34 1173.82h5.6"/><path d="M567.34 1170.59h5.6"/><path d="M574.5 1174.79V1171.7"/><path d="M571.7 1174.79h5.6"/><path d="M571.7 1171.7h5.6"/><path d="M578.86 1174.92V1171.84"/><path d="M576.06 1174.92h5.6"/><path d="M576.06 1171.84h5.6"/><path d="M583.22 1175.74V1172.82"/><path d="M580.42 1175.74h5.6"/><path d="M580.42 1172.82h5.6"/><path d="M587.58 1174.07V1171"/><path d="M584.78 1174.07h5.6"/><path d="M584.78 1171h5.6"/><path d="M591.94 1174.12V1171.14"/><path d="M589.14 1174.12h5.6"/><path d="M589.14 1171.14h5.6"/><path d="M596.3 1177.44V1174.79"/><path d="M593.5 1177.44h5.6"/><path d="M593.5 1174.79h5.6"/><path d="M600.66 1176.81V1174.09"/><path d="M597.86 1176.81h5.6"/><path d="M597.86 1174.09h5.6"/><path d="M605.02 1175.85V1173.09"/><path d="M602.22 1175.85h5.6"/><path d="M602.22 1173.09h5.6"/><path d="M609.38 1178.24V1175.65"/><path d="M606.58 1178.24h5.6"/><path d="M606.58 1175.65h5.6"/><path d="M613.74 1178.39V1175.73"/><path d="M610.94 1178.39h5.6"/><path d="M610.94 1175.73h5.6"/><path d="M618.1 1177.36V1174.71"/><path d="M615.3 1177.36h5.6"/><path d="M615.3 1174.71h5.6"/><path d="M622.46 1178.86V1176.23"/><path d="M619.66 1178.86h5.6"/><path d="M619.66 1176.23h5.6"/><path d="M626.82 1175.65V1172.71"/><path d="M624.02 1175.65h5.6"/><path d="M624.02 1172.71h5.6"/><path d="M631.18 1176.93V1174.07"/><path d="M628.38 1176.93h5.6"/><path d="M628.38 1174.07h5.6"/><path d="M635.54 1177.77V1174.88"/><path d="M632.74 1177.77h5.6"/><path d="M632.74 1174.88h5.6"/><path d="M639.9 1179V1176.21"/><path d="M637.1 1179h5.6"/><path d="M637.1 1176.21h5.6"/><path d="M644.26 1178.38V1175.46"/><path d="M641.46 1178.38h5.6"/><path d="M641.46 1175.46h5.6"/><path d="M648.62 1177.06V1173.86"/><path d="M645.82 1177.06h5.6"/><path d="M645.82 1173.86h5.6"/><path d="M652.98 1179.11V1176.04"/><path d="M650.18 1179.11h5.6"/><path d="M650.18 1176.04h5.6"/><path d="M657.34 1180.8V1177.88"/><path d="M654.54 1180.8h5.6"/><path d="M654.54 1177.88h5.6"/><path d="M661.7 1180.72V1177.58"/><path d="M658.9 1180.72h5.6"/><path d="M658.9 1177.58h5.6"/><path d="M666.06 1181.9V1178.76"/><path d="M663.26 1181.9h5.6"/><path d="M663.26 1178.76h5.6"/><path d="M670.42 1183.06V1179.91"/><path d="M667.62 1183.06h5.6"/><path d="M667.62 1179.91h5.6"/><path d="M674.78 1180.52V1176.88"/><path d="M671.98 1180.52h5.6"/><path d="M671.98 1176.88h5.6"/><path d="M679.14 1181.24V1177.45"/><path d="M676.34 1181.24h5.6"/><path d="M676.34 1177.45h5.6"/><path d="M683.5 1179.12V1174.52"/><path d="M680.7 1179.12h5.6"/><path d="M680.7 1174.52h5.6"/><path d="M687.86 1182.85V1178.83"/><path d="M685.06 1182.85h5.6"/><path d="M685.06 1178.83h5.6"/><path d="M692.22 1179.91V1174.79"/><path d="M689.42 1179.91h5.6"/><path d="M689.42 1174.79h5.6"/><path d="M696.58 1177.44V1171.34"/><path d="M693.78 1177.44h5.6"/><path d="M693.78 1171.34h5.6"/><path d="M700.94 1184.04V1178.81"/><path d="M698.14 1184.04h5.6"/><path d="M698.14 1178.81h5.6"/><path d="M705.3 1183.66V1177.67"/><path d="M702.5 1183.66h5.6"/><path d="M702.5 1177.67h5.6"/><path d="M709.66 1187.69V1182.07"/><path d="M706.86 1187.69h5.6"/><path d="M706.86 1182.07h5.6"/><path d="M714.02 1186.14V1179.02"/><path d="M711.22 1186.14h5.6"/><path d="M711.22 1179.02h5.6"/><path d="M718.38 1184.42V1175.52"/><path d="M715.58 1184.42h5.6"/><path d="M715.58 1175.52h5.6"/><path d="M722.74 1181.7V1169.99"/><path d="M719.94 1181.7h5.6"/><path d="M719.94 1169.99h5.6"/><path d="M727.1 1186.12V1173.53"/><path d="M724.3 1186.12h5.6"/><path d="M724.3 1173.53h5.6"/><path d="M731.46 1188.43V1173.56"/><path d="M728.66 1188.43h5.6"/><path d="M728.66 1173.56h5.6"/><path d="M393.57 1231.39V1120.09"/><path d="M390.77 1231.39h5.6"/><path d="M390.77 1120.09h5.6"/><path d="M410.96 1211.91V1175.04"/><path d="M408.16 1211.91h5.6"/><path d="M408.16 1175.04h5.6"/><path d="M419.3 1231.39V1120.09"/><path d="M416.5 1231.39h5.6"/><path d="M416.5 1120.09h5.6"/><path d="M428.35 1231.39V1120.09"/><path d="M425.55 1231.39h5.6"/><path d="M425.55 1120.09h5.6"/><path d="M432.66 1231.39V1120.09"/><path d="M429.86 1231.39h5.6"/><path d="M429.86 1120.09h5.6"/><path d="M437.11 1231.39V1120.09"/><path d="M434.31 1231.39h5.6"/><path d="M434.31 1120.09h5.6"/><path d="M441.43 1231.39V1120.09"/><path d="M438.63 1231.39h5.6"/><path d="M438.63 1120.09h5.6"/><path d="M445.74 1231.39V1120.09"/><path d="M442.94 1231.39h5.6"/><path d="M442.94 1120.09h5.6"/><path d="M450.19 1231.39V1120.09"/><path d="M447.39 1231.39h5.6"/><path d="M447.39 1120.09h5.6"/><path d="M454.5 1231.39V1120.09"/><path d="M451.7 1231.39h5.6"/><path d="M451.7 1120.09h5.6"/><path d="M458.82 1231.39V1120.09"/><path d="M456.02 1231.39h5.6"/><path d="M456.02 1120.09h5.6"/><path d="M464.52 1161.83V1120.09"/><path d="M461.72 1161.83h5.6"/><path d="M461.72 1120.09h5.6"/><path d="M467.3 1177.83V1139.57"/><path d="M464.5 1177.83h5.6"/><path d="M464.5 1139.57h5.6"/><path d="M470.78 1180.61V1142.35"/><path d="M467.98 1180.61h5.6"/><path d="M467.98 1142.35h5.6"/><path d="M475.65 1152.09V1120.09"/><path d="M472.85 1152.09h5.6"/><path d="M472.85 1120.09h5.6"/><path d="M479.83 1147.22V1120.09"/><path d="M477.03 1147.22h5.6"/><path d="M477.03 1120.09h5.6"/><path d="M484.7 1173.65V1150.7"/><path d="M481.9 1173.65h5.6"/><path d="M481.9 1150.7h5.6"/><path d="M488.87 1154.87V1139.57"/><path d="M486.07 1154.87h5.6"/><path d="M486.07 1139.57h5.6"/><path d="M493.04 1154.87V1139.57"/><path d="M490.24 1154.87h5.6"/><path d="M490.24 1139.57h5.6"/><path d="M497.22 1163.91V1145.13"/><path d="M494.42 1163.91h5.6"/><path d="M494.42 1145.13h5.6"/><path d="M502.09 1167.39V1154.87"/><path d="M499.29 1167.39h5.6"/><path d="M499.29 1154.87h5.6"/><path d="M735.48 1168.09V1120.09"/><path d="M732.68 1168.09h5.6"/><path d="M732.68 1120.09h5.6"/><path d="M740.35 1172.96V1120.09"/><path d="M737.55 1172.96h5.6"/><path d="M737.55 1120.09h5.6"/><path d="M744.52 1198V1178.52"/><path d="M741.72 1198h5.6"/><path d="M741.72 1178.52h5.6"/><path d="M749.39 1200.78V1162.52"/><path d="M746.59 1200.78h5.6"/><path d="M746.59 1162.52h5.6"/><path d="M753.57 1159.74V1120.09"/><path d="M750.77 1159.74h5.6"/><path d="M750.77 1120.09h5.6"/><path d="M757.74 1179.91V1120.09"/><path d="M754.94 1179.91h5.6"/><path d="M754.94 1120.09h5.6"/><path d="M761.91 1231.39V1120.09"/><path d="M759.11 1231.39h5.6"/><path d="M759.11 1120.09h5.6"/><path d="M766.09 1231.39V1120.09"/><path d="M763.29 1231.39h5.6"/><path d="M763.29 1120.09h5.6"/><path d="M770.26 1231.39V1120.09"/><path d="M767.46 1231.39h5.6"/><path d="M767.46 1120.09h5.6"/><path d="M774.43 1231.39V1120.09"/><path d="M771.63 1231.39h5.6"/><path d="M771.63 1120.09h5.6"/><path d="M779.3 1231.39V1120.09"/><path d="M776.5 1231.39h5.6"/><path d="M776.5 1120.09h5.6"/><path d="M791.83 1231.39V1120.09"/><path d="M789.03 1231.39h5.6"/><path d="M789.03 1120.09h5.6"/><path d="M796.7 1231.39V1120.09"/><path d="M793.9 1231.39h5.6"/><path d="M793.9 1120.09h5.6"/><path d="M789.04 1211.91V1175.74"/><path d="M786.24 1211.91h5.6"/><path d="M786.24 1175.74h5.6"/><path d="M805.04 1211.91V1175.74"/><path d="M802.24 1211.91h5.6"/><path d="M802.24 1175.74h5.6"/><path d="M814.09 1211.91V1175.74"/><path d="M811.29 1211.91h5.6"/><path d="M811.29 1175.74h5.6"/></g><path d="M372.7 1174.2H843.7" stroke="#808080" stroke-width="2.4"/><g clip-path="url(#r_eta)" fill="#007f96"><circle cx="504.74" cy="1171.98" r="2.95"/><circle cx="509.1" cy="1154.78" r="2.95"/><circle cx="513.46" cy="1161.5" r="2.95"/><circle cx="517.82" cy="1165.5" r="2.95"/><circle cx="522.18" cy="1166.07" r="2.95"/><circle cx="526.54" cy="1168.26" r="2.95"/><circle cx="530.9" cy="1169.57" r="2.95"/><circle cx="535.26" cy="1163.36" r="2.95"/><circle cx="539.62" cy="1169.43" r="2.95"/><circle cx="543.98" cy="1165.54" r="2.95"/><circle cx="548.34" cy="1170.53" r="2.95"/><circle cx="552.7" cy="1168.03" r="2.95"/><circle cx="557.06" cy="1169.98" r="2.95"/><circle cx="561.42" cy="1169.32" r="2.95"/><circle cx="565.78" cy="1172.36" r="2.95"/><circle cx="570.14" cy="1172.2" r="2.95"/><circle cx="574.5" cy="1173.25" r="2.95"/><circle cx="578.86" cy="1173.38" r="2.95"/><circle cx="583.22" cy="1174.28" r="2.95"/><circle cx="587.58" cy="1172.54" r="2.95"/><circle cx="591.94" cy="1172.63" r="2.95"/><circle cx="596.3" cy="1176.11" r="2.95"/><circle cx="600.66" cy="1175.45" r="2.95"/><circle cx="605.02" cy="1174.47" r="2.95"/><circle cx="609.38" cy="1176.95" r="2.95"/><circle cx="613.74" cy="1177.06" r="2.95"/><circle cx="618.1" cy="1176.03" r="2.95"/><circle cx="622.46" cy="1177.54" r="2.95"/><circle cx="626.82" cy="1174.18" r="2.95"/><circle cx="631.18" cy="1175.5" r="2.95"/><circle cx="635.54" cy="1176.32" r="2.95"/><circle cx="639.9" cy="1177.6" r="2.95"/><circle cx="644.26" cy="1176.92" r="2.95"/><circle cx="648.62" cy="1175.46" r="2.95"/><circle cx="652.98" cy="1177.58" r="2.95"/><circle cx="657.34" cy="1179.34" r="2.95"/><circle cx="661.7" cy="1179.15" r="2.95"/><circle cx="666.06" cy="1180.33" r="2.95"/><circle cx="670.42" cy="1181.48" r="2.95"/><circle cx="674.78" cy="1178.7" r="2.95"/><circle cx="679.14" cy="1179.34" r="2.95"/><circle cx="683.5" cy="1176.82" r="2.95"/><circle cx="687.86" cy="1180.84" r="2.95"/><circle cx="692.22" cy="1177.35" r="2.95"/><circle cx="696.58" cy="1174.39" r="2.95"/><circle cx="700.94" cy="1181.42" r="2.95"/><circle cx="705.3" cy="1180.67" r="2.95"/><circle cx="709.66" cy="1184.88" r="2.95"/><circle cx="714.02" cy="1182.58" r="2.95"/><circle cx="718.38" cy="1179.97" r="2.95"/><circle cx="722.74" cy="1175.84" r="2.95"/><circle cx="727.1" cy="1179.83" r="2.95"/><circle cx="731.46" cy="1181" r="2.95"/><circle cx="393.57" cy="1127.04" r="2.95"/><circle cx="410.96" cy="1211.91" r="2.95"/><circle cx="419.3" cy="1175.04" r="2.95"/><circle cx="428.35" cy="1127.04" r="2.95"/><circle cx="432.66" cy="1127.04" r="2.95"/><circle cx="437.11" cy="1127.04" r="2.95"/><circle cx="441.43" cy="1127.04" r="2.95"/><circle cx="445.74" cy="1127.04" r="2.95"/><circle cx="450.19" cy="1127.04" r="2.95"/><circle cx="454.5" cy="1127.04" r="2.95"/><circle cx="458.82" cy="1127.04" r="2.95"/><circle cx="464.52" cy="1134" r="2.95"/><circle cx="467.3" cy="1149.3" r="2.95"/><circle cx="470.78" cy="1161.83" r="2.95"/><circle cx="475.65" cy="1138.17" r="2.95"/><circle cx="479.83" cy="1136.78" r="2.95"/><circle cx="484.7" cy="1162.52" r="2.95"/><circle cx="488.87" cy="1147.91" r="2.95"/><circle cx="493.04" cy="1144.43" r="2.95"/><circle cx="497.22" cy="1154.17" r="2.95"/><circle cx="502.09" cy="1161.13" r="2.95"/><circle cx="735.48" cy="1147.22" r="2.95"/><circle cx="740.35" cy="1147.22" r="2.95"/><circle cx="744.52" cy="1188.26" r="2.95"/><circle cx="749.39" cy="1181.3" r="2.95"/><circle cx="753.57" cy="1134" r="2.95"/><circle cx="757.74" cy="1134" r="2.95"/><circle cx="761.91" cy="1127.04" r="2.95"/><circle cx="766.09" cy="1127.04" r="2.95"/><circle cx="770.26" cy="1127.04" r="2.95"/><circle cx="774.43" cy="1127.04" r="2.95"/><circle cx="779.3" cy="1127.04" r="2.95"/><circle cx="791.83" cy="1127.04" r="2.95"/><circle cx="796.7" cy="1127.04" r="2.95"/><circle cx="789.04" cy="1211.91" r="2.95"/><circle cx="805.04" cy="1211.91" r="2.95"/><circle cx="814.09" cy="1211.91" r="2.95"/><circle cx="761.22" cy="1208.8" r="2.95"/><circle cx="765.39" cy="1208.8" r="2.95"/><circle cx="769.57" cy="1208.8" r="2.95"/><circle cx="773.74" cy="1208.8" r="2.95"/><circle cx="777.91" cy="1208.8" r="2.95"/><circle cx="782.09" cy="1208.8" r="2.95"/><circle cx="786.26" cy="1208.8" r="2.95"/><circle cx="790.43" cy="1208.8" r="2.95"/><circle cx="794.61" cy="1208.8" r="2.95"/><circle cx="798.78" cy="1208.8" r="2.95"/><circle cx="802.96" cy="1208.8" r="2.95"/><circle cx="807.13" cy="1208.8" r="2.95"/><circle cx="811.3" cy="1208.8" r="2.95"/><circle cx="815.48" cy="1208.8" r="2.95"/><circle cx="819.65" cy="1208.8" r="2.95"/><circle cx="823.83" cy="1208.8" r="2.95"/><circle cx="392.87" cy="1208.8" r="2.95"/><circle cx="397.04" cy="1208.8" r="2.95"/><circle cx="401.22" cy="1208.8" r="2.95"/><circle cx="405.39" cy="1208.8" r="2.95"/><circle cx="409.57" cy="1208.8" r="2.95"/><circle cx="413.74" cy="1208.8" r="2.95"/></g><rect x="372.7" y="642.5" width="471" height="473" fill="none" stroke="#000" stroke-width="2.6"/><rect x="372.7" y="1139.6" width="471" height="69.2" fill="none" stroke="#000" stroke-width="2.6"/><text transform="translate(779.4,1276.4) scale(0.9662,1)" text-anchor="start" font-size="30.8">Jet η</text><text transform="translate(310.4,641.04) rotate(-90) scale(0.9650,1)" text-anchor="end" font-size="30.95">Entries (norm.)</text><text transform="translate(310.4,1138.33) rotate(-90) scale(0.9650,1)" text-anchor="end" font-size="30.95">Gen/Input</text></g>
<g><path d="M981.6 1103.24h8.2M1439 1103.24h-8.2" stroke="#000" stroke-width="1.5"/><path d="M981.6 1085.48h8.2M1439 1085.48h-8.2" stroke="#000" stroke-width="1.5"/><path d="M981.6 1067.72h8.2M1439 1067.72h-8.2" stroke="#000" stroke-width="1.5"/><path d="M981.6 1049.96h8.2M1439 1049.96h-8.2" stroke="#000" stroke-width="1.5"/><path d="M981.6 1032.2h17M1439 1032.2h-17" stroke="#000" stroke-width="1.8"/><path d="M981.6 1014.44h8.2M1439 1014.44h-8.2" stroke="#000" stroke-width="1.5"/><path d="M981.6 996.68h8.2M1439 996.68h-8.2" stroke="#000" stroke-width="1.5"/><path d="M981.6 978.92h8.2M1439 978.92h-8.2" stroke="#000" stroke-width="1.5"/><path d="M981.6 961.16h8.2M1439 961.16h-8.2" stroke="#000" stroke-width="1.5"/><path d="M981.6 943.4h17M1439 943.4h-17" stroke="#000" stroke-width="1.8"/><path d="M981.6 925.64h8.2M1439 925.64h-8.2" stroke="#000" stroke-width="1.5"/><path d="M981.6 907.88h8.2M1439 907.88h-8.2" stroke="#000" stroke-width="1.5"/><path d="M981.6 890.12h8.2M1439 890.12h-8.2" stroke="#000" stroke-width="1.5"/><path d="M981.6 872.36h8.2M1439 872.36h-8.2" stroke="#000" stroke-width="1.5"/><path d="M981.6 854.6h17M1439 854.6h-17" stroke="#000" stroke-width="1.8"/><path d="M981.6 836.84h8.2M1439 836.84h-8.2" stroke="#000" stroke-width="1.5"/><path d="M981.6 819.08h8.2M1439 819.08h-8.2" stroke="#000" stroke-width="1.5"/><path d="M981.6 801.32h8.2M1439 801.32h-8.2" stroke="#000" stroke-width="1.5"/><path d="M981.6 783.56h8.2M1439 783.56h-8.2" stroke="#000" stroke-width="1.5"/><path d="M981.6 765.8h17M1439 765.8h-17" stroke="#000" stroke-width="1.8"/><path d="M981.6 748.04h8.2M1439 748.04h-8.2" stroke="#000" stroke-width="1.5"/><path d="M981.6 730.28h8.2M1439 730.28h-8.2" stroke="#000" stroke-width="1.5"/><path d="M981.6 712.52h8.2M1439 712.52h-8.2" stroke="#000" stroke-width="1.5"/><path d="M981.6 694.76h8.2M1439 694.76h-8.2" stroke="#000" stroke-width="1.5"/><path d="M981.6 677h17M1439 677h-17" stroke="#000" stroke-width="1.8"/><text transform="translate(975.94,1132.5) scale(0.9230,1)" text-anchor="end" font-size="33.8">0.00</text><text transform="translate(976.25,1043.7) scale(0.9230,1)" text-anchor="end" font-size="33.8">0.05</text><text transform="translate(975.94,954.9) scale(0.9230,1)" text-anchor="end" font-size="33.8">0.10</text><text transform="translate(976.25,866.1) scale(0.9230,1)" text-anchor="end" font-size="33.8">0.15</text><text transform="translate(975.94,777.3) scale(0.9230,1)" text-anchor="end" font-size="33.8">0.20</text><text transform="translate(976.25,688.5) scale(0.9230,1)" text-anchor="end" font-size="33.8">0.25</text><path d="M981.6 1195.05h8.2M1439 1195.05h-8.2" stroke="#000" stroke-width="1.5"/><path d="M981.6 1161.15h8.2M1439 1161.15h-8.2" stroke="#000" stroke-width="1.5"/><text transform="translate(975.93,1223.5) scale(0.9230,1)" text-anchor="end" font-size="33.8">0</text><text transform="translate(976.24,1155.7) scale(0.9230,1)" text-anchor="end" font-size="33.8">2</text><path d="M1000.15 1212v-8.2M1000.15 1144.2v8.2" stroke="#000" stroke-width="1.5"/><path d="M1035.17 1212v-8.2M1035.17 1144.2v8.2" stroke="#000" stroke-width="1.5"/><path d="M1070.2 1212v-17M1070.2 1144.2v17" stroke="#000" stroke-width="1.8"/><path d="M1105.22 1212v-8.2M1105.22 1144.2v8.2" stroke="#000" stroke-width="1.5"/><path d="M1140.25 1212v-8.2M1140.25 1144.2v8.2" stroke="#000" stroke-width="1.5"/><path d="M1175.27 1212v-8.2M1175.27 1144.2v8.2" stroke="#000" stroke-width="1.5"/><path d="M1210.3 1212v-17M1210.3 1144.2v17" stroke="#000" stroke-width="1.8"/><path d="M1245.33 1212v-8.2M1245.33 1144.2v8.2" stroke="#000" stroke-width="1.5"/><path d="M1280.35 1212v-8.2M1280.35 1144.2v8.2" stroke="#000" stroke-width="1.5"/><path d="M1315.38 1212v-8.2M1315.38 1144.2v8.2" stroke="#000" stroke-width="1.5"/><path d="M1350.4 1212v-17M1350.4 1144.2v17" stroke="#000" stroke-width="1.8"/><path d="M1385.42 1212v-8.2M1385.42 1144.2v8.2" stroke="#000" stroke-width="1.5"/><path d="M1420.45 1212v-8.2M1420.45 1144.2v8.2" stroke="#000" stroke-width="1.5"/><text transform="translate(1069.84,1244.2) scale(0.9230,1)" text-anchor="middle" font-size="33.8">-2</text><text transform="translate(1209.74,1244.2) scale(0.9230,1)" text-anchor="middle" font-size="33.8">0</text><text transform="translate(1349.84,1244.2) scale(0.9230,1)" text-anchor="middle" font-size="33.8">2</text><g clip-path="url(#c_phi)" fill="none" stroke-width="2.2"><path d="M1001.9 1121V840.5H1006.06V823.6H1010.23V853.9H1014.39V826.3H1018.56V814.5H1022.72V815.8H1026.89V845.8H1031.05V818.9H1035.22V787.4H1039.38V822.8H1043.55V843H1047.71V823.1H1051.88V823.1H1056.04V806.1H1060.21V845.8H1064.37V838.2H1068.54V831.2H1072.7V812H1076.87V806.7H1081.03V796.8H1085.2V802.6H1089.36V816H1093.53V814.3H1097.69V854.6H1101.86V814.1H1106.02V805.9H1110.19V851.4H1114.35V817.6H1118.52V821.7H1122.68V836.3H1126.85V863.1H1131.01V803.6H1135.18V816.4H1139.34V803.6H1143.51V851.4H1147.67V843.8H1151.84V841.5H1156V836.8H1160.17V835.7H1164.33V811.7H1168.5V790.7H1172.66V828.7H1176.83V822.8H1180.99V835.1H1185.16V797.7H1189.32V822.8H1193.49V838.3H1197.65V800.1H1201.82V800.5H1205.98V828.7H1210.15V838.6H1214.31V817H1218.48V794.2H1222.64V803.6H1226.81V826.3H1230.97V818.7H1235.14V816.4H1239.3V824.6H1243.47V800.1H1247.63V826.3H1251.8V844.4H1255.96V849.1H1260.13V796.6H1264.29V847.9H1268.46V789.6H1272.62V808.8H1276.79V853.8H1280.95V809.4H1285.12V843.3H1289.28V813.5H1293.45V845.6H1297.61V828.7H1301.78V844.4H1305.94V818.8H1310.11V794.3H1314.27V844.2H1318.44V831.9H1322.6V828.6H1326.77V829.4H1330.93V829.4H1335.1V849.1H1339.26V842.5H1343.43V855.6H1347.59V804.1H1351.76V832.7H1355.92V813.1H1360.09V802.5H1364.25V841.7H1368.42V844.2H1372.58V812.3H1376.75V838.4H1380.91V845H1385.08V840.9H1389.24V791H1393.41V838.4H1397.57V812.3H1401.74V824.5H1405.9V827H1410.07V835.2H1414.23V827.8H1418.4V1121" stroke="#b0000f"/><path d="M1001.9 1121V844.2H1006.06V827.5H1010.23V824.3H1014.39V849.7H1018.56V841.9H1022.72V832.9H1026.89V850H1031.05V876.8H1035.22V845.3H1039.38V866.3H1043.55V880.3H1047.71V834.7H1051.88V860.4H1056.04V893.1H1060.21V896H1064.37V876.8H1068.54V875.6H1072.7V866.3H1076.87V866.3H1081.03V858.1H1085.2V826H1089.36V867.4H1093.53V876.8H1097.69V850.5H1101.86V840H1106.02V824.6H1110.19V880H1114.35V794.2H1118.52V846.8H1122.68V847H1126.85V848H1131.01V876.1H1135.18V877.4H1139.34V845H1143.51V820.5H1147.67V830.4H1151.84V824.6H1156V840.9H1160.17V826.9H1164.33V858.9H1168.5V790.7H1172.66V802H1176.83V800H1180.99V835.7H1185.16V831.6H1189.32V843.3H1193.49V815.2H1197.65V810.6H1201.82V795.4H1205.98V745.2H1210.15V814.1H1214.31V817H1218.48V825.7H1222.64V855.5H1226.81V804.7H1230.97V800.1H1235.14V780.2H1239.3V764.4H1243.47V781.4H1247.63V780.8H1251.8V822.2H1255.96V835.1H1260.13V811.7H1264.29V800.1H1268.46V789.6H1272.62V840.3H1276.79V805.9H1280.95V817.6H1285.12V810.6H1289.28V783.1H1293.45V798.9H1297.61V760.8H1301.78V815.5H1305.94V776.3H1310.11V813.9H1314.27V792.8H1318.44V792.8H1322.6V812H1326.77V812H1330.93V773.6H1335.1V778H1339.26V787H1343.43V785.4H1347.59V812.8H1351.76V808H1355.92V683.3H1360.09V767.7H1364.25V772.1H1368.42V821.7H1372.58V824H1376.75V834.3H1380.91V817.3H1385.08V821.7H1389.24V843.2H1393.41V847.6H1397.57V832H1401.74V871.1H1405.9V855H1410.07V815H1414.23V830.6H1418.4V1121" stroke="#007f96" stroke-dasharray="4.7 2.3"/></g><g clip-path="url(#r_phi)" stroke="#007f96" fill="none" stroke-width="2"><path d="M1002.98 1181.91V1175.18"/><path d="M1000.18 1181.91h5.6"/><path d="M1000.18 1175.18h5.6"/><path d="M1007.15 1181.81V1175.28"/><path d="M1004.35 1181.81h5.6"/><path d="M1004.35 1175.28h5.6"/><path d="M1011.31 1178.11V1170.57"/><path d="M1008.51 1178.11h5.6"/><path d="M1008.51 1170.57h5.6"/><path d="M1015.48 1183.91V1177.68"/><path d="M1012.68 1183.91h5.6"/><path d="M1012.68 1177.68h5.6"/><path d="M1019.64 1184.16V1178.1"/><path d="M1016.84 1184.16h5.6"/><path d="M1016.84 1178.1h5.6"/><path d="M1023.81 1183.12V1176.88"/><path d="M1021.01 1183.12h5.6"/><path d="M1021.01 1176.88h5.6"/><path d="M1027.97 1182.01V1175.23"/><path d="M1025.17 1182.01h5.6"/><path d="M1025.17 1175.23h5.6"/><path d="M1032.14 1187.4V1181.8"/><path d="M1029.34 1187.4h5.6"/><path d="M1029.34 1181.8h5.6"/><path d="M1036.3 1186.69V1181.28"/><path d="M1033.5 1186.69h5.6"/><path d="M1033.5 1181.28h5.6"/><path d="M1040.47 1185.98V1180.11"/><path d="M1037.67 1185.98h5.6"/><path d="M1037.67 1180.11h5.6"/><path d="M1044.63 1185.72V1179.58"/><path d="M1041.83 1185.72h5.6"/><path d="M1041.83 1179.58h5.6"/><path d="M1048.8 1182.62V1176.22"/><path d="M1046 1182.62h5.6"/><path d="M1046 1176.22h5.6"/><path d="M1052.96 1185.33V1179.36"/><path d="M1050.16 1185.33h5.6"/><path d="M1050.16 1179.36h5.6"/><path d="M1057.13 1190V1184.93"/><path d="M1054.33 1190h5.6"/><path d="M1054.33 1184.93h5.6"/><path d="M1061.29 1187.24V1181.33"/><path d="M1058.49 1187.24h5.6"/><path d="M1058.49 1181.33h5.6"/><path d="M1065.46 1185.76V1179.69"/><path d="M1062.66 1185.76h5.6"/><path d="M1062.66 1179.69h5.6"/><path d="M1069.62 1186.25V1180.34"/><path d="M1066.82 1186.25h5.6"/><path d="M1066.82 1180.34h5.6"/><path d="M1073.79 1186.86V1181.25"/><path d="M1070.99 1186.86h5.6"/><path d="M1070.99 1181.25h5.6"/><path d="M1077.95 1187.28V1181.78"/><path d="M1075.15 1187.28h5.6"/><path d="M1075.15 1181.78h5.6"/><path d="M1082.12 1187.22V1181.8"/><path d="M1079.32 1187.22h5.6"/><path d="M1079.32 1181.8h5.6"/><path d="M1086.28 1183.6V1177.58"/><path d="M1083.48 1183.6h5.6"/><path d="M1083.48 1177.58h5.6"/><path d="M1090.45 1186.66V1180.97"/><path d="M1087.65 1186.66h5.6"/><path d="M1087.65 1180.97h5.6"/><path d="M1094.61 1187.76V1182.26"/><path d="M1091.81 1187.76h5.6"/><path d="M1091.81 1182.26h5.6"/><path d="M1098.78 1181.1V1174.05"/><path d="M1095.98 1181.1h5.6"/><path d="M1095.98 1174.05h5.6"/><path d="M1102.94 1184V1177.92"/><path d="M1100.14 1184h5.6"/><path d="M1100.14 1177.92h5.6"/><path d="M1107.11 1183.17V1177.05"/><path d="M1104.31 1183.17h5.6"/><path d="M1104.31 1177.05h5.6"/><path d="M1111.27 1184.88V1178.51"/><path d="M1108.47 1184.88h5.6"/><path d="M1108.47 1178.51h5.6"/><path d="M1115.44 1178.94V1172.03"/><path d="M1112.64 1178.94h5.6"/><path d="M1112.64 1172.03h5.6"/><path d="M1119.6 1184.02V1177.86"/><path d="M1116.8 1184.02h5.6"/><path d="M1116.8 1177.86h5.6"/><path d="M1123.77 1182.65V1176.1"/><path d="M1120.97 1182.65h5.6"/><path d="M1120.97 1176.1h5.6"/><path d="M1127.93 1179.81V1172.42"/><path d="M1125.13 1179.81h5.6"/><path d="M1125.13 1172.42h5.6"/><path d="M1132.1 1188.48V1183.2"/><path d="M1129.3 1188.48h5.6"/><path d="M1129.3 1183.2h5.6"/><path d="M1136.26 1187.65V1182.12"/><path d="M1133.46 1187.65h5.6"/><path d="M1133.46 1182.12h5.6"/><path d="M1140.43 1185.4V1179.64"/><path d="M1137.63 1185.4h5.6"/><path d="M1137.63 1179.64h5.6"/><path d="M1144.59 1177.98V1170.45"/><path d="M1141.79 1177.98h5.6"/><path d="M1141.79 1170.45h5.6"/><path d="M1148.76 1180V1172.92"/><path d="M1145.96 1180h5.6"/><path d="M1145.96 1172.92h5.6"/><path d="M1152.92 1179.61V1172.49"/><path d="M1150.12 1179.61h5.6"/><path d="M1150.12 1172.49h5.6"/><path d="M1157.09 1181.93V1175.25"/><path d="M1154.29 1181.93h5.6"/><path d="M1154.29 1175.25h5.6"/><path d="M1161.25 1180.5V1173.61"/><path d="M1158.45 1180.5h5.6"/><path d="M1158.45 1173.61h5.6"/><path d="M1165.42 1186.14V1180.41"/><path d="M1162.62 1186.14h5.6"/><path d="M1162.62 1180.41h5.6"/><path d="M1169.58 1181.23V1174.97"/><path d="M1166.78 1181.23h5.6"/><path d="M1166.78 1174.97h5.6"/><path d="M1173.75 1178.56V1171.45"/><path d="M1170.95 1178.56h5.6"/><path d="M1170.95 1171.45h5.6"/><path d="M1177.91 1178.99V1172.02"/><path d="M1175.11 1178.99h5.6"/><path d="M1175.11 1172.02h5.6"/><path d="M1182.08 1181.53V1174.81"/><path d="M1179.28 1181.53h5.6"/><path d="M1179.28 1174.81h5.6"/><path d="M1186.24 1184.57V1178.74"/><path d="M1183.44 1184.57h5.6"/><path d="M1183.44 1178.74h5.6"/><path d="M1190.41 1183.55V1177.31"/><path d="M1187.61 1183.55h5.6"/><path d="M1187.61 1177.31h5.6"/><path d="M1194.57 1178.92V1171.74"/><path d="M1191.77 1178.92h5.6"/><path d="M1191.77 1171.74h5.6"/><path d="M1198.74 1182.31V1176.11"/><path d="M1195.94 1182.31h5.6"/><path d="M1195.94 1176.11h5.6"/><path d="M1202.9 1180.78V1174.34"/><path d="M1200.1 1180.78h5.6"/><path d="M1200.1 1174.34h5.6"/><path d="M1207.07 1172.45V1164.38"/><path d="M1204.27 1172.45h5.6"/><path d="M1204.27 1164.38h5.6"/><path d="M1211.23 1178.76V1171.55"/><path d="M1208.43 1178.76h5.6"/><path d="M1208.43 1171.55h5.6"/><path d="M1215.4 1181.36V1174.84"/><path d="M1212.6 1181.36h5.6"/><path d="M1212.6 1174.84h5.6"/><path d="M1219.56 1184.29V1178.45"/><path d="M1216.76 1184.29h5.6"/><path d="M1216.76 1178.45h5.6"/><path d="M1223.73 1186.44V1180.84"/><path d="M1220.93 1186.44h5.6"/><path d="M1220.93 1180.84h5.6"/><path d="M1227.89 1179.11V1172.12"/><path d="M1225.09 1179.11h5.6"/><path d="M1225.09 1172.12h5.6"/><path d="M1232.06 1179.44V1172.59"/><path d="M1229.26 1179.44h5.6"/><path d="M1229.26 1172.59h5.6"/><path d="M1236.22 1177.62V1170.52"/><path d="M1233.42 1177.62h5.6"/><path d="M1233.42 1170.52h5.6"/><path d="M1240.39 1175.02V1167.41"/><path d="M1237.59 1175.02h5.6"/><path d="M1237.59 1167.41h5.6"/><path d="M1244.55 1179.44V1172.81"/><path d="M1241.75 1179.44h5.6"/><path d="M1241.75 1172.81h5.6"/><path d="M1248.72 1176.56V1169.17"/><path d="M1245.92 1176.56h5.6"/><path d="M1245.92 1169.17h5.6"/><path d="M1252.88 1179.01V1171.75"/><path d="M1250.08 1179.01h5.6"/><path d="M1250.08 1171.75h5.6"/><path d="M1257.05 1179.94V1172.77"/><path d="M1254.25 1179.94h5.6"/><path d="M1254.25 1172.77h5.6"/><path d="M1261.21 1182.73V1176.63"/><path d="M1258.41 1182.73h5.6"/><path d="M1258.41 1176.63h5.6"/><path d="M1265.38 1176.06V1168.27"/><path d="M1262.58 1176.06h5.6"/><path d="M1262.58 1168.27h5.6"/><path d="M1269.54 1181.23V1174.97"/><path d="M1266.74 1181.23h5.6"/><path d="M1266.74 1174.97h5.6"/><path d="M1273.71 1184.5V1178.55"/><path d="M1270.91 1184.5h5.6"/><path d="M1270.91 1178.55h5.6"/><path d="M1277.87 1175.97V1168.08"/><path d="M1275.07 1175.97h5.6"/><path d="M1275.07 1168.08h5.6"/><path d="M1282.04 1182.15V1175.83"/><path d="M1279.24 1182.15h5.6"/><path d="M1279.24 1175.83h5.6"/><path d="M1286.2 1177.82V1170.39"/><path d="M1283.4 1177.82h5.6"/><path d="M1283.4 1170.39h5.6"/><path d="M1290.37 1178.23V1171.26"/><path d="M1287.57 1178.23h5.6"/><path d="M1287.57 1171.26h5.6"/><path d="M1294.53 1176.21V1168.49"/><path d="M1291.73 1176.21h5.6"/><path d="M1291.73 1168.49h5.6"/><path d="M1298.7 1174.13V1166.32"/><path d="M1295.9 1174.13h5.6"/><path d="M1295.9 1166.32h5.6"/><path d="M1302.86 1178.25V1170.87"/><path d="M1300.06 1178.25h5.6"/><path d="M1300.06 1170.87h5.6"/><path d="M1307.03 1176.95V1169.72"/><path d="M1304.23 1176.95h5.6"/><path d="M1304.23 1169.72h5.6"/><path d="M1311.19 1183.14V1177.13"/><path d="M1308.39 1183.14h5.6"/><path d="M1308.39 1177.13h5.6"/><path d="M1315.36 1175.7V1167.91"/><path d="M1312.56 1175.7h5.6"/><path d="M1312.56 1167.91h5.6"/><path d="M1319.52 1177.2V1169.83"/><path d="M1316.72 1177.2h5.6"/><path d="M1316.72 1169.83h5.6"/><path d="M1323.69 1179.64V1172.71"/><path d="M1320.89 1179.64h5.6"/><path d="M1320.89 1172.71h5.6"/><path d="M1327.85 1179.56V1172.6"/><path d="M1325.05 1179.56h5.6"/><path d="M1325.05 1172.6h5.6"/><path d="M1332.02 1175.42V1167.81"/><path d="M1329.22 1175.42h5.6"/><path d="M1329.22 1167.81h5.6"/><path d="M1336.18 1173.36V1165.11"/><path d="M1333.38 1173.36h5.6"/><path d="M1333.38 1165.11h5.6"/><path d="M1340.35 1175.26V1167.43"/><path d="M1337.55 1175.26h5.6"/><path d="M1337.55 1167.43h5.6"/><path d="M1344.51 1173.31V1164.95"/><path d="M1341.71 1173.31h5.6"/><path d="M1341.71 1164.95h5.6"/><path d="M1348.68 1182.16V1175.9"/><path d="M1345.88 1182.16h5.6"/><path d="M1345.88 1175.9h5.6"/><path d="M1352.84 1178.76V1171.63"/><path d="M1350.04 1178.76h5.6"/><path d="M1350.04 1171.63h5.6"/><path d="M1357.01 1168.06V1159.55"/><path d="M1354.21 1168.06h5.6"/><path d="M1354.21 1159.55h5.6"/><path d="M1361.17 1177.84V1170.95"/><path d="M1358.37 1177.84h5.6"/><path d="M1358.37 1170.95h5.6"/><path d="M1365.34 1173.69V1165.62"/><path d="M1362.54 1173.69h5.6"/><path d="M1362.54 1165.62h5.6"/><path d="M1369.5 1178.97V1171.72"/><path d="M1366.7 1178.97h5.6"/><path d="M1366.7 1171.72h5.6"/><path d="M1373.67 1182.53V1176.24"/><path d="M1370.87 1182.53h5.6"/><path d="M1370.87 1176.24h5.6"/><path d="M1377.83 1181.03V1174.19"/><path d="M1375.03 1181.03h5.6"/><path d="M1375.03 1174.19h5.6"/><path d="M1382 1178.38V1171.02"/><path d="M1379.2 1178.38h5.6"/><path d="M1379.2 1171.02h5.6"/><path d="M1386.16 1179.35V1172.2"/><path d="M1383.36 1179.35h5.6"/><path d="M1383.36 1172.2h5.6"/><path d="M1390.33 1186.22V1180.7"/><path d="M1387.53 1186.22h5.6"/><path d="M1387.53 1180.7h5.6"/><path d="M1394.49 1182.51V1175.9"/><path d="M1391.69 1182.51h5.6"/><path d="M1391.69 1175.9h5.6"/><path d="M1398.66 1183.35V1177.18"/><path d="M1395.86 1183.35h5.6"/><path d="M1395.86 1177.18h5.6"/><path d="M1402.82 1186.34V1180.52"/><path d="M1400.02 1186.34h5.6"/><path d="M1400.02 1180.52h5.6"/><path d="M1406.99 1184.41V1178.25"/><path d="M1404.19 1184.41h5.6"/><path d="M1404.19 1178.25h5.6"/><path d="M1411.15 1179.25V1172.16"/><path d="M1408.35 1179.25h5.6"/><path d="M1408.35 1172.16h5.6"/><path d="M1415.32 1181.72V1175.12"/><path d="M1412.52 1181.72h5.6"/><path d="M1412.52 1175.12h5.6"/></g><path d="M981.6 1178.1H1439" stroke="#808080" stroke-width="2.4"/><g clip-path="url(#r_phi)" fill="#007f96"><circle cx="1002.98" cy="1178.55" r="2.95"/><circle cx="1007.15" cy="1178.54" r="2.95"/><circle cx="1011.31" cy="1174.34" r="2.95"/><circle cx="1015.48" cy="1180.79" r="2.95"/><circle cx="1019.64" cy="1181.13" r="2.95"/><circle cx="1023.81" cy="1180" r="2.95"/><circle cx="1027.97" cy="1178.62" r="2.95"/><circle cx="1032.14" cy="1184.6" r="2.95"/><circle cx="1036.3" cy="1183.98" r="2.95"/><circle cx="1040.47" cy="1183.05" r="2.95"/><circle cx="1044.63" cy="1182.65" r="2.95"/><circle cx="1048.8" cy="1179.42" r="2.95"/><circle cx="1052.96" cy="1182.34" r="2.95"/><circle cx="1057.13" cy="1187.47" r="2.95"/><circle cx="1061.29" cy="1184.28" r="2.95"/><circle cx="1065.46" cy="1182.73" r="2.95"/><circle cx="1069.62" cy="1183.29" r="2.95"/><circle cx="1073.79" cy="1184.06" r="2.95"/><circle cx="1077.95" cy="1184.53" r="2.95"/><circle cx="1082.12" cy="1184.51" r="2.95"/><circle cx="1086.28" cy="1180.59" r="2.95"/><circle cx="1090.45" cy="1183.81" r="2.95"/><circle cx="1094.61" cy="1185.01" r="2.95"/><circle cx="1098.78" cy="1177.58" r="2.95"/><circle cx="1102.94" cy="1180.96" r="2.95"/><circle cx="1107.11" cy="1180.11" r="2.95"/><circle cx="1111.27" cy="1181.7" r="2.95"/><circle cx="1115.44" cy="1175.49" r="2.95"/><circle cx="1119.6" cy="1180.94" r="2.95"/><circle cx="1123.77" cy="1179.37" r="2.95"/><circle cx="1127.93" cy="1176.12" r="2.95"/><circle cx="1132.1" cy="1185.84" r="2.95"/><circle cx="1136.26" cy="1184.89" r="2.95"/><circle cx="1140.43" cy="1182.52" r="2.95"/><circle cx="1144.59" cy="1174.21" r="2.95"/><circle cx="1148.76" cy="1176.46" r="2.95"/><circle cx="1152.92" cy="1176.05" r="2.95"/><circle cx="1157.09" cy="1178.59" r="2.95"/><circle cx="1161.25" cy="1177.05" r="2.95"/><circle cx="1165.42" cy="1183.27" r="2.95"/><circle cx="1169.58" cy="1178.1" r="2.95"/><circle cx="1173.75" cy="1175" r="2.95"/><circle cx="1177.91" cy="1175.51" r="2.95"/><circle cx="1182.08" cy="1178.17" r="2.95"/><circle cx="1186.24" cy="1181.65" r="2.95"/><circle cx="1190.41" cy="1180.43" r="2.95"/><circle cx="1194.57" cy="1175.33" r="2.95"/><circle cx="1198.74" cy="1179.21" r="2.95"/><circle cx="1202.9" cy="1177.56" r="2.95"/><circle cx="1207.07" cy="1168.42" r="2.95"/><circle cx="1211.23" cy="1175.16" r="2.95"/><circle cx="1215.4" cy="1178.1" r="2.95"/><circle cx="1219.56" cy="1181.37" r="2.95"/><circle cx="1223.73" cy="1183.64" r="2.95"/><circle cx="1227.89" cy="1175.62" r="2.95"/><circle cx="1232.06" cy="1176.01" r="2.95"/><circle cx="1236.22" cy="1174.07" r="2.95"/><circle cx="1240.39" cy="1171.21" r="2.95"/><circle cx="1244.55" cy="1176.12" r="2.95"/><circle cx="1248.72" cy="1172.87" r="2.95"/><circle cx="1252.88" cy="1175.38" r="2.95"/><circle cx="1257.05" cy="1176.35" r="2.95"/><circle cx="1261.21" cy="1179.68" r="2.95"/><circle cx="1265.38" cy="1172.17" r="2.95"/><circle cx="1269.54" cy="1178.1" r="2.95"/><circle cx="1273.71" cy="1181.52" r="2.95"/><circle cx="1277.87" cy="1172.02" r="2.95"/><circle cx="1282.04" cy="1178.99" r="2.95"/><circle cx="1286.2" cy="1174.11" r="2.95"/><circle cx="1290.37" cy="1174.75" r="2.95"/><circle cx="1294.53" cy="1172.35" r="2.95"/><circle cx="1298.7" cy="1170.23" r="2.95"/><circle cx="1302.86" cy="1174.56" r="2.95"/><circle cx="1307.03" cy="1173.33" r="2.95"/><circle cx="1311.19" cy="1180.13" r="2.95"/><circle cx="1315.36" cy="1171.8" r="2.95"/><circle cx="1319.52" cy="1173.52" r="2.95"/><circle cx="1323.69" cy="1176.18" r="2.95"/><circle cx="1327.85" cy="1176.08" r="2.95"/><circle cx="1332.02" cy="1171.61" r="2.95"/><circle cx="1336.18" cy="1169.24" r="2.95"/><circle cx="1340.35" cy="1171.34" r="2.95"/><circle cx="1344.51" cy="1169.13" r="2.95"/><circle cx="1348.68" cy="1179.03" r="2.95"/><circle cx="1352.84" cy="1175.2" r="2.95"/><circle cx="1357.01" cy="1163.81" r="2.95"/><circle cx="1361.17" cy="1174.4" r="2.95"/><circle cx="1365.34" cy="1169.65" r="2.95"/><circle cx="1369.5" cy="1175.34" r="2.95"/><circle cx="1373.67" cy="1179.38" r="2.95"/><circle cx="1377.83" cy="1177.61" r="2.95"/><circle cx="1382" cy="1174.7" r="2.95"/><circle cx="1386.16" cy="1175.78" r="2.95"/><circle cx="1390.33" cy="1183.46" r="2.95"/><circle cx="1394.49" cy="1179.2" r="2.95"/><circle cx="1398.66" cy="1180.26" r="2.95"/><circle cx="1402.82" cy="1183.43" r="2.95"/><circle cx="1406.99" cy="1181.33" r="2.95"/><circle cx="1411.15" cy="1175.7" r="2.95"/><circle cx="1415.32" cy="1178.42" r="2.95"/></g><rect x="981.6" y="662.7" width="457.4" height="458.3" fill="none" stroke="#000" stroke-width="2.6"/><rect x="981.6" y="1144.2" width="457.4" height="67.8" fill="none" stroke="#000" stroke-width="2.6"/><text transform="translate(1371.49,1276.7) scale(1.0010,1)" text-anchor="start" font-size="30.3">Jet ϕ</text><text transform="translate(903.5,661.3) rotate(-90) scale(0.9650,1)" text-anchor="end" font-size="30">Entries (norm.)</text><text transform="translate(903.5,1143.84) rotate(-90) scale(0.9650,1)" text-anchor="end" font-size="30">Gen/Input</text></g>
<rect x="200.9" y="30.3" width="38.4" height="17.7" fill="none" stroke="#b0000f" stroke-width="2.2"/>
<path d="M200.9 85.9H239.3V68H200.9Z" fill="none" stroke="#007f96" stroke-width="2.2" stroke-dasharray="4.7 2.3" stroke-dashoffset="0.9"/>
<text transform="translate(259.51,47.8) scale(0.9894,1)" text-anchor="start" font-size="26.8">Input Test</text>
<text transform="translate(259.3,85.6) scale(0.9693,1)" text-anchor="start" font-size="26.8">ConVAE+NF Gen</text></svg></body></html>
